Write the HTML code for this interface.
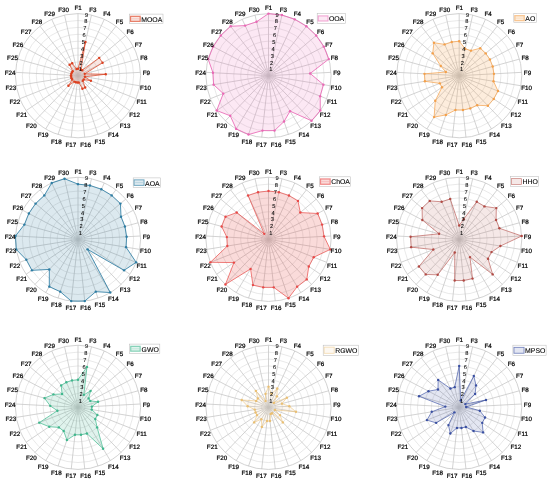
<!DOCTYPE html>
<html><head><meta charset="utf-8"><title>Radar charts</title>
<style>html,body{margin:0;padding:0;background:#fff;overflow:hidden}svg{display:block}</style></head>
<body>
<svg text-rendering="geometricPrecision" width="550" height="483" viewBox="0 0 550 483" font-family="'Liberation Sans', Arial, sans-serif">
<rect width="550" height="483" fill="#fff"/>
<g>
<ellipse cx="78.00" cy="75.70" rx="6.96" ry="6.90" fill="none" stroke="#e0e0e0" stroke-width="0.7"/>
<ellipse cx="78.00" cy="75.70" rx="13.91" ry="13.80" fill="none" stroke="#e0e0e0" stroke-width="0.7"/>
<ellipse cx="78.00" cy="75.70" rx="20.87" ry="20.70" fill="none" stroke="#e0e0e0" stroke-width="0.7"/>
<ellipse cx="78.00" cy="75.70" rx="27.82" ry="27.60" fill="none" stroke="#e0e0e0" stroke-width="0.7"/>
<ellipse cx="78.00" cy="75.70" rx="34.78" ry="34.50" fill="none" stroke="#e0e0e0" stroke-width="0.7"/>
<ellipse cx="78.00" cy="75.70" rx="41.73" ry="41.40" fill="none" stroke="#e0e0e0" stroke-width="0.7"/>
<ellipse cx="78.00" cy="75.70" rx="48.69" ry="48.30" fill="none" stroke="#e0e0e0" stroke-width="0.7"/>
<ellipse cx="78.00" cy="75.70" rx="55.64" ry="55.20" fill="none" stroke="#e0e0e0" stroke-width="0.7"/>
<ellipse cx="78.00" cy="75.70" rx="62.60" ry="62.10" fill="none" stroke="#c6c6c6" stroke-width="0.8"/>
<path d="M78.00 75.70L78.00 13.60M78.00 75.70L91.46 15.05M78.00 75.70L104.29 19.34M78.00 75.70L115.88 26.26M78.00 75.70L125.71 35.50M78.00 75.70L133.31 46.61M78.00 75.70L138.32 59.09M78.00 75.70L140.51 72.34M78.00 75.70L139.78 85.75M78.00 75.70L136.15 98.69M78.00 75.70L129.81 110.55M78.00 75.70L121.05 120.78M78.00 75.70L110.27 128.91M78.00 75.70L97.99 134.55M78.00 75.70L84.77 137.44M78.00 75.70L71.23 137.44M78.00 75.70L58.01 134.55M78.00 75.70L45.73 128.91M78.00 75.70L34.95 120.78M78.00 75.70L26.19 110.55M78.00 75.70L19.85 98.69M78.00 75.70L16.22 85.75M78.00 75.70L15.49 72.34M78.00 75.70L17.68 59.09M78.00 75.70L22.69 46.61M78.00 75.70L30.29 35.50M78.00 75.70L40.12 26.26M78.00 75.70L51.71 19.34M78.00 75.70L64.54 15.05" stroke="#c4c4c4" stroke-width="0.75" fill="none"/>
<polygon points="78.00,68.80 85.48,42.01 80.92,69.44 82.21,70.21 99.21,57.83 102.58,62.77 84.70,73.85 105.78,74.21 84.86,76.82 90.92,80.81 83.76,79.57 82.78,80.71 85.17,87.52 82.44,88.78 78.75,82.56 77.25,82.56 75.78,82.24 74.41,81.61 68.43,85.72 72.24,79.57 71.54,78.25 71.14,76.82 71.05,75.33 71.30,73.85 71.85,72.47 72.70,71.23 69.58,64.71 72.16,63.18 76.50,68.96" fill="#dc4020" fill-opacity="0.13" stroke="#dc4020" stroke-width="0.70" stroke-linejoin="round"/>
<circle cx="78.00" cy="68.80" r="1.2" fill="#dc4020"/>
<circle cx="85.48" cy="42.01" r="1.2" fill="#dc4020"/>
<circle cx="80.92" cy="69.44" r="1.2" fill="#dc4020"/>
<circle cx="82.21" cy="70.21" r="1.2" fill="#dc4020"/>
<circle cx="99.21" cy="57.83" r="1.2" fill="#dc4020"/>
<circle cx="102.58" cy="62.77" r="1.2" fill="#dc4020"/>
<circle cx="84.70" cy="73.85" r="1.2" fill="#dc4020"/>
<circle cx="105.78" cy="74.21" r="1.2" fill="#dc4020"/>
<circle cx="84.86" cy="76.82" r="1.2" fill="#dc4020"/>
<circle cx="90.92" cy="80.81" r="1.2" fill="#dc4020"/>
<circle cx="83.76" cy="79.57" r="1.2" fill="#dc4020"/>
<circle cx="82.78" cy="80.71" r="1.2" fill="#dc4020"/>
<circle cx="85.17" cy="87.52" r="1.2" fill="#dc4020"/>
<circle cx="82.44" cy="88.78" r="1.2" fill="#dc4020"/>
<circle cx="78.75" cy="82.56" r="1.2" fill="#dc4020"/>
<circle cx="77.25" cy="82.56" r="1.2" fill="#dc4020"/>
<circle cx="75.78" cy="82.24" r="1.2" fill="#dc4020"/>
<circle cx="74.41" cy="81.61" r="1.2" fill="#dc4020"/>
<circle cx="68.43" cy="85.72" r="1.2" fill="#dc4020"/>
<circle cx="72.24" cy="79.57" r="1.2" fill="#dc4020"/>
<circle cx="71.54" cy="78.25" r="1.2" fill="#dc4020"/>
<circle cx="71.14" cy="76.82" r="1.2" fill="#dc4020"/>
<circle cx="71.05" cy="75.33" r="1.2" fill="#dc4020"/>
<circle cx="71.30" cy="73.85" r="1.2" fill="#dc4020"/>
<circle cx="71.85" cy="72.47" r="1.2" fill="#dc4020"/>
<circle cx="72.70" cy="71.23" r="1.2" fill="#dc4020"/>
<circle cx="69.58" cy="64.71" r="1.2" fill="#dc4020"/>
<circle cx="72.16" cy="63.18" r="1.2" fill="#dc4020"/>
<circle cx="76.50" cy="68.96" r="1.2" fill="#dc4020"/>
<text x="80.45" y="69.14" font-size="5.7" text-anchor="middle" fill="#000" stroke="#000" stroke-width="0.06" dy="2.3">1</text>
<text x="81.20" y="62.28" font-size="5.7" text-anchor="middle" fill="#000" stroke="#000" stroke-width="0.06" dy="2.3">2</text>
<text x="81.96" y="55.42" font-size="5.7" text-anchor="middle" fill="#000" stroke="#000" stroke-width="0.06" dy="2.3">3</text>
<text x="82.71" y="48.56" font-size="5.7" text-anchor="middle" fill="#000" stroke="#000" stroke-width="0.06" dy="2.3">4</text>
<text x="83.46" y="41.70" font-size="5.7" text-anchor="middle" fill="#000" stroke="#000" stroke-width="0.06" dy="2.3">5</text>
<text x="84.21" y="34.84" font-size="5.7" text-anchor="middle" fill="#000" stroke="#000" stroke-width="0.06" dy="2.3">6</text>
<text x="84.96" y="27.98" font-size="5.7" text-anchor="middle" fill="#000" stroke="#000" stroke-width="0.06" dy="2.3">7</text>
<text x="85.72" y="21.12" font-size="5.7" text-anchor="middle" fill="#000" stroke="#000" stroke-width="0.06" dy="2.3">8</text>
<text x="86.47" y="14.26" font-size="5.7" text-anchor="middle" fill="#000" stroke="#000" stroke-width="0.06" dy="2.3">9</text>
<text x="78.20" y="7.20" font-size="6.25" text-anchor="middle" fill="#000" stroke="#000" stroke-width="0.22" dy="2.9">F1</text>
<text x="92.86" y="8.80" font-size="6.25" text-anchor="middle" fill="#000" stroke="#000" stroke-width="0.22" dy="2.9">F3</text>
<text x="106.84" y="13.53" font-size="6.25" text-anchor="middle" fill="#000" stroke="#000" stroke-width="0.22" dy="2.9">F4</text>
<text x="119.47" y="21.17" font-size="6.25" text-anchor="middle" fill="#000" stroke="#000" stroke-width="0.22" dy="2.9">F5</text>
<text x="130.18" y="31.35" font-size="6.25" text-anchor="middle" fill="#000" stroke="#000" stroke-width="0.22" dy="2.9">F6</text>
<text x="138.46" y="43.61" font-size="6.25" text-anchor="middle" fill="#000" stroke="#000" stroke-width="0.22" dy="2.9">F7</text>
<text x="143.91" y="57.37" font-size="6.25" text-anchor="middle" fill="#000" stroke="#000" stroke-width="0.22" dy="2.9">F8</text>
<text x="146.30" y="71.99" font-size="6.25" text-anchor="middle" fill="#000" stroke="#000" stroke-width="0.22" dy="2.9">F9</text>
<text x="145.50" y="86.78" font-size="6.25" text-anchor="middle" fill="#000" stroke="#000" stroke-width="0.22" dy="2.9">F10</text>
<text x="141.56" y="101.05" font-size="6.25" text-anchor="middle" fill="#000" stroke="#000" stroke-width="0.22" dy="2.9">F11</text>
<text x="134.65" y="114.14" font-size="6.25" text-anchor="middle" fill="#000" stroke="#000" stroke-width="0.22" dy="2.9">F12</text>
<text x="125.10" y="125.43" font-size="6.25" text-anchor="middle" fill="#000" stroke="#000" stroke-width="0.22" dy="2.9">F13</text>
<text x="113.36" y="134.39" font-size="6.25" text-anchor="middle" fill="#000" stroke="#000" stroke-width="0.22" dy="2.9">F14</text>
<text x="99.98" y="140.61" font-size="6.25" text-anchor="middle" fill="#000" stroke="#000" stroke-width="0.22" dy="2.9">F15</text>
<text x="85.57" y="143.80" font-size="6.25" text-anchor="middle" fill="#000" stroke="#000" stroke-width="0.22" dy="2.9">F16</text>
<text x="70.83" y="143.80" font-size="6.25" text-anchor="middle" fill="#000" stroke="#000" stroke-width="0.22" dy="2.9">F17</text>
<text x="56.42" y="140.61" font-size="6.25" text-anchor="middle" fill="#000" stroke="#000" stroke-width="0.22" dy="2.9">F18</text>
<text x="43.04" y="134.39" font-size="6.25" text-anchor="middle" fill="#000" stroke="#000" stroke-width="0.22" dy="2.9">F19</text>
<text x="31.30" y="125.43" font-size="6.25" text-anchor="middle" fill="#000" stroke="#000" stroke-width="0.22" dy="2.9">F20</text>
<text x="21.75" y="114.14" font-size="6.25" text-anchor="middle" fill="#000" stroke="#000" stroke-width="0.22" dy="2.9">F21</text>
<text x="14.84" y="101.05" font-size="6.25" text-anchor="middle" fill="#000" stroke="#000" stroke-width="0.22" dy="2.9">F22</text>
<text x="10.90" y="86.78" font-size="6.25" text-anchor="middle" fill="#000" stroke="#000" stroke-width="0.22" dy="2.9">F23</text>
<text x="10.10" y="71.99" font-size="6.25" text-anchor="middle" fill="#000" stroke="#000" stroke-width="0.22" dy="2.9">F24</text>
<text x="12.49" y="57.37" font-size="6.25" text-anchor="middle" fill="#000" stroke="#000" stroke-width="0.22" dy="2.9">F25</text>
<text x="17.94" y="43.61" font-size="6.25" text-anchor="middle" fill="#000" stroke="#000" stroke-width="0.22" dy="2.9">F26</text>
<text x="26.22" y="31.35" font-size="6.25" text-anchor="middle" fill="#000" stroke="#000" stroke-width="0.22" dy="2.9">F27</text>
<text x="36.93" y="21.17" font-size="6.25" text-anchor="middle" fill="#000" stroke="#000" stroke-width="0.22" dy="2.9">F28</text>
<text x="49.56" y="13.53" font-size="6.25" text-anchor="middle" fill="#000" stroke="#000" stroke-width="0.22" dy="2.9">F29</text>
<text x="63.54" y="8.80" font-size="6.25" text-anchor="middle" fill="#000" stroke="#000" stroke-width="0.22" dy="2.9">F30</text>
<rect x="129.40" y="14.10" width="33.60" height="9.40" fill="#fff" stroke="#bdbdbd" stroke-width="0.55"/>
<rect x="130.53" y="16.32" width="9.65" height="5.05" fill="#dc4020" fill-opacity="0.13" stroke="#dc4020" stroke-opacity="0.65" stroke-width="1.25"/>
<path d="M131.50 18.85H139.20" stroke="#dc4020" stroke-opacity="0.3" stroke-width="0.6"/>
<text x="141.20" y="21.50" font-size="6.9" fill="#000" stroke="#000" stroke-width="0.1">MOOA</text>
</g>
<g>
<ellipse cx="268.50" cy="75.70" rx="6.96" ry="6.90" fill="none" stroke="#e0e0e0" stroke-width="0.7"/>
<ellipse cx="268.50" cy="75.70" rx="13.91" ry="13.80" fill="none" stroke="#e0e0e0" stroke-width="0.7"/>
<ellipse cx="268.50" cy="75.70" rx="20.87" ry="20.70" fill="none" stroke="#e0e0e0" stroke-width="0.7"/>
<ellipse cx="268.50" cy="75.70" rx="27.82" ry="27.60" fill="none" stroke="#e0e0e0" stroke-width="0.7"/>
<ellipse cx="268.50" cy="75.70" rx="34.78" ry="34.50" fill="none" stroke="#e0e0e0" stroke-width="0.7"/>
<ellipse cx="268.50" cy="75.70" rx="41.73" ry="41.40" fill="none" stroke="#e0e0e0" stroke-width="0.7"/>
<ellipse cx="268.50" cy="75.70" rx="48.69" ry="48.30" fill="none" stroke="#e0e0e0" stroke-width="0.7"/>
<ellipse cx="268.50" cy="75.70" rx="55.64" ry="55.20" fill="none" stroke="#e0e0e0" stroke-width="0.7"/>
<ellipse cx="268.50" cy="75.70" rx="62.60" ry="62.10" fill="none" stroke="#c6c6c6" stroke-width="0.8"/>
<path d="M268.50 75.70L268.50 13.60M268.50 75.70L281.96 15.05M268.50 75.70L294.79 19.34M268.50 75.70L306.38 26.26M268.50 75.70L316.21 35.50M268.50 75.70L323.81 46.61M268.50 75.70L328.82 59.09M268.50 75.70L331.01 72.34M268.50 75.70L330.28 85.75M268.50 75.70L326.65 98.69M268.50 75.70L320.31 110.55M268.50 75.70L311.55 120.78M268.50 75.70L300.77 128.91M268.50 75.70L288.49 134.55M268.50 75.70L275.27 137.44M268.50 75.70L261.73 137.44M268.50 75.70L248.51 134.55M268.50 75.70L236.23 128.91M268.50 75.70L225.45 120.78M268.50 75.70L216.69 110.55M268.50 75.70L210.35 98.69M268.50 75.70L206.72 85.75M268.50 75.70L205.99 72.34M268.50 75.70L208.18 59.09M268.50 75.70L213.19 46.61M268.50 75.70L220.79 35.50M268.50 75.70L230.62 26.26M268.50 75.70L242.21 19.34M268.50 75.70L255.04 15.05" stroke="#c4c4c4" stroke-width="0.75" fill="none"/>
<polygon points="268.50,13.60 281.96,15.05 294.79,19.34 306.38,26.26 316.21,35.50 323.81,46.61 328.82,59.09 310.17,73.46 323.41,84.63 320.19,96.13 320.31,110.55 311.55,120.78 290.02,111.17 284.05,121.47 274.52,130.58 262.48,130.58 248.51,134.55 236.23,128.91 230.23,115.77 216.69,110.55 223.27,93.58 213.59,84.63 212.94,72.71 208.18,59.09 213.19,46.61 220.79,35.50 230.62,26.26 245.14,25.60 256.54,21.79" fill="#e968b5" fill-opacity="0.15" stroke="#e968b5" stroke-width="0.85" stroke-linejoin="round"/>
<circle cx="268.50" cy="13.60" r="1.2" fill="#e968b5"/>
<circle cx="281.96" cy="15.05" r="1.2" fill="#e968b5"/>
<circle cx="294.79" cy="19.34" r="1.2" fill="#e968b5"/>
<circle cx="306.38" cy="26.26" r="1.2" fill="#e968b5"/>
<circle cx="316.21" cy="35.50" r="1.2" fill="#e968b5"/>
<circle cx="323.81" cy="46.61" r="1.2" fill="#e968b5"/>
<circle cx="328.82" cy="59.09" r="1.2" fill="#e968b5"/>
<circle cx="310.17" cy="73.46" r="1.2" fill="#e968b5"/>
<circle cx="323.41" cy="84.63" r="1.2" fill="#e968b5"/>
<circle cx="320.19" cy="96.13" r="1.2" fill="#e968b5"/>
<circle cx="320.31" cy="110.55" r="1.2" fill="#e968b5"/>
<circle cx="311.55" cy="120.78" r="1.2" fill="#e968b5"/>
<circle cx="290.02" cy="111.17" r="1.2" fill="#e968b5"/>
<circle cx="284.05" cy="121.47" r="1.2" fill="#e968b5"/>
<circle cx="274.52" cy="130.58" r="1.2" fill="#e968b5"/>
<circle cx="262.48" cy="130.58" r="1.2" fill="#e968b5"/>
<circle cx="248.51" cy="134.55" r="1.2" fill="#e968b5"/>
<circle cx="236.23" cy="128.91" r="1.2" fill="#e968b5"/>
<circle cx="230.23" cy="115.77" r="1.2" fill="#e968b5"/>
<circle cx="216.69" cy="110.55" r="1.2" fill="#e968b5"/>
<circle cx="223.27" cy="93.58" r="1.2" fill="#e968b5"/>
<circle cx="213.59" cy="84.63" r="1.2" fill="#e968b5"/>
<circle cx="212.94" cy="72.71" r="1.2" fill="#e968b5"/>
<circle cx="208.18" cy="59.09" r="1.2" fill="#e968b5"/>
<circle cx="213.19" cy="46.61" r="1.2" fill="#e968b5"/>
<circle cx="220.79" cy="35.50" r="1.2" fill="#e968b5"/>
<circle cx="230.62" cy="26.26" r="1.2" fill="#e968b5"/>
<circle cx="245.14" cy="25.60" r="1.2" fill="#e968b5"/>
<circle cx="256.54" cy="21.79" r="1.2" fill="#e968b5"/>
<text x="270.95" y="69.14" font-size="5.7" text-anchor="middle" fill="#000" stroke="#000" stroke-width="0.06" dy="2.3">1</text>
<text x="271.70" y="62.28" font-size="5.7" text-anchor="middle" fill="#000" stroke="#000" stroke-width="0.06" dy="2.3">2</text>
<text x="272.46" y="55.42" font-size="5.7" text-anchor="middle" fill="#000" stroke="#000" stroke-width="0.06" dy="2.3">3</text>
<text x="273.21" y="48.56" font-size="5.7" text-anchor="middle" fill="#000" stroke="#000" stroke-width="0.06" dy="2.3">4</text>
<text x="273.96" y="41.70" font-size="5.7" text-anchor="middle" fill="#000" stroke="#000" stroke-width="0.06" dy="2.3">5</text>
<text x="274.71" y="34.84" font-size="5.7" text-anchor="middle" fill="#000" stroke="#000" stroke-width="0.06" dy="2.3">6</text>
<text x="275.46" y="27.98" font-size="5.7" text-anchor="middle" fill="#000" stroke="#000" stroke-width="0.06" dy="2.3">7</text>
<text x="276.22" y="21.12" font-size="5.7" text-anchor="middle" fill="#000" stroke="#000" stroke-width="0.06" dy="2.3">8</text>
<text x="276.97" y="14.26" font-size="5.7" text-anchor="middle" fill="#000" stroke="#000" stroke-width="0.06" dy="2.3">9</text>
<text x="268.70" y="7.20" font-size="6.25" text-anchor="middle" fill="#000" stroke="#000" stroke-width="0.22" dy="2.9">F1</text>
<text x="283.36" y="8.80" font-size="6.25" text-anchor="middle" fill="#000" stroke="#000" stroke-width="0.22" dy="2.9">F3</text>
<text x="297.34" y="13.53" font-size="6.25" text-anchor="middle" fill="#000" stroke="#000" stroke-width="0.22" dy="2.9">F4</text>
<text x="309.97" y="21.17" font-size="6.25" text-anchor="middle" fill="#000" stroke="#000" stroke-width="0.22" dy="2.9">F5</text>
<text x="320.68" y="31.35" font-size="6.25" text-anchor="middle" fill="#000" stroke="#000" stroke-width="0.22" dy="2.9">F6</text>
<text x="328.96" y="43.61" font-size="6.25" text-anchor="middle" fill="#000" stroke="#000" stroke-width="0.22" dy="2.9">F7</text>
<text x="334.41" y="57.37" font-size="6.25" text-anchor="middle" fill="#000" stroke="#000" stroke-width="0.22" dy="2.9">F8</text>
<text x="336.80" y="71.99" font-size="6.25" text-anchor="middle" fill="#000" stroke="#000" stroke-width="0.22" dy="2.9">F9</text>
<text x="336.00" y="86.78" font-size="6.25" text-anchor="middle" fill="#000" stroke="#000" stroke-width="0.22" dy="2.9">F10</text>
<text x="332.06" y="101.05" font-size="6.25" text-anchor="middle" fill="#000" stroke="#000" stroke-width="0.22" dy="2.9">F11</text>
<text x="325.15" y="114.14" font-size="6.25" text-anchor="middle" fill="#000" stroke="#000" stroke-width="0.22" dy="2.9">F12</text>
<text x="315.60" y="125.43" font-size="6.25" text-anchor="middle" fill="#000" stroke="#000" stroke-width="0.22" dy="2.9">F13</text>
<text x="303.86" y="134.39" font-size="6.25" text-anchor="middle" fill="#000" stroke="#000" stroke-width="0.22" dy="2.9">F14</text>
<text x="290.48" y="140.61" font-size="6.25" text-anchor="middle" fill="#000" stroke="#000" stroke-width="0.22" dy="2.9">F15</text>
<text x="276.07" y="143.80" font-size="6.25" text-anchor="middle" fill="#000" stroke="#000" stroke-width="0.22" dy="2.9">F16</text>
<text x="261.33" y="143.80" font-size="6.25" text-anchor="middle" fill="#000" stroke="#000" stroke-width="0.22" dy="2.9">F17</text>
<text x="246.92" y="140.61" font-size="6.25" text-anchor="middle" fill="#000" stroke="#000" stroke-width="0.22" dy="2.9">F18</text>
<text x="233.54" y="134.39" font-size="6.25" text-anchor="middle" fill="#000" stroke="#000" stroke-width="0.22" dy="2.9">F19</text>
<text x="221.80" y="125.43" font-size="6.25" text-anchor="middle" fill="#000" stroke="#000" stroke-width="0.22" dy="2.9">F20</text>
<text x="212.25" y="114.14" font-size="6.25" text-anchor="middle" fill="#000" stroke="#000" stroke-width="0.22" dy="2.9">F21</text>
<text x="205.34" y="101.05" font-size="6.25" text-anchor="middle" fill="#000" stroke="#000" stroke-width="0.22" dy="2.9">F22</text>
<text x="201.40" y="86.78" font-size="6.25" text-anchor="middle" fill="#000" stroke="#000" stroke-width="0.22" dy="2.9">F23</text>
<text x="200.60" y="71.99" font-size="6.25" text-anchor="middle" fill="#000" stroke="#000" stroke-width="0.22" dy="2.9">F24</text>
<text x="202.99" y="57.37" font-size="6.25" text-anchor="middle" fill="#000" stroke="#000" stroke-width="0.22" dy="2.9">F25</text>
<text x="208.44" y="43.61" font-size="6.25" text-anchor="middle" fill="#000" stroke="#000" stroke-width="0.22" dy="2.9">F26</text>
<text x="216.72" y="31.35" font-size="6.25" text-anchor="middle" fill="#000" stroke="#000" stroke-width="0.22" dy="2.9">F27</text>
<text x="227.43" y="21.17" font-size="6.25" text-anchor="middle" fill="#000" stroke="#000" stroke-width="0.22" dy="2.9">F28</text>
<text x="240.06" y="13.53" font-size="6.25" text-anchor="middle" fill="#000" stroke="#000" stroke-width="0.22" dy="2.9">F29</text>
<text x="254.04" y="8.80" font-size="6.25" text-anchor="middle" fill="#000" stroke="#000" stroke-width="0.22" dy="2.9">F30</text>
<rect x="317.20" y="13.40" width="28.40" height="9.90" fill="#fff" stroke="#bdbdbd" stroke-width="0.55"/>
<rect x="318.20" y="15.90" width="9.80" height="5.10" fill="#e968b5" fill-opacity="0.15" stroke="#e968b5" stroke-opacity="0.60" stroke-width="1.00"/>
<text x="328.90" y="21.10" font-size="6.9" fill="#000" stroke="#000" stroke-width="0.1">OOA</text>
</g>
<g>
<ellipse cx="459.20" cy="75.70" rx="6.96" ry="6.90" fill="none" stroke="#e0e0e0" stroke-width="0.7"/>
<ellipse cx="459.20" cy="75.70" rx="13.91" ry="13.80" fill="none" stroke="#e0e0e0" stroke-width="0.7"/>
<ellipse cx="459.20" cy="75.70" rx="20.87" ry="20.70" fill="none" stroke="#e0e0e0" stroke-width="0.7"/>
<ellipse cx="459.20" cy="75.70" rx="27.82" ry="27.60" fill="none" stroke="#e0e0e0" stroke-width="0.7"/>
<ellipse cx="459.20" cy="75.70" rx="34.78" ry="34.50" fill="none" stroke="#e0e0e0" stroke-width="0.7"/>
<ellipse cx="459.20" cy="75.70" rx="41.73" ry="41.40" fill="none" stroke="#e0e0e0" stroke-width="0.7"/>
<ellipse cx="459.20" cy="75.70" rx="48.69" ry="48.30" fill="none" stroke="#e0e0e0" stroke-width="0.7"/>
<ellipse cx="459.20" cy="75.70" rx="55.64" ry="55.20" fill="none" stroke="#e0e0e0" stroke-width="0.7"/>
<ellipse cx="459.20" cy="75.70" rx="62.60" ry="62.10" fill="none" stroke="#c6c6c6" stroke-width="0.8"/>
<path d="M459.20 75.70L459.20 13.60M459.20 75.70L472.66 15.05M459.20 75.70L485.49 19.34M459.20 75.70L497.08 26.26M459.20 75.70L506.91 35.50M459.20 75.70L514.51 46.61M459.20 75.70L519.52 59.09M459.20 75.70L521.71 72.34M459.20 75.70L520.98 85.75M459.20 75.70L517.35 98.69M459.20 75.70L511.01 110.55M459.20 75.70L502.25 120.78M459.20 75.70L491.47 128.91M459.20 75.70L479.19 134.55M459.20 75.70L465.97 137.44M459.20 75.70L452.43 137.44M459.20 75.70L439.21 134.55M459.20 75.70L426.93 128.91M459.20 75.70L416.15 120.78M459.20 75.70L407.39 110.55M459.20 75.70L401.05 98.69M459.20 75.70L397.42 85.75M459.20 75.70L396.69 72.34M459.20 75.70L398.88 59.09M459.20 75.70L403.89 46.61M459.20 75.70L411.49 35.50M459.20 75.70L421.32 26.26M459.20 75.70L432.91 19.34M459.20 75.70L445.74 15.05" stroke="#c4c4c4" stroke-width="0.75" fill="none"/>
<polygon points="459.20,41.20 465.18,48.75 470.88,50.65 480.25,48.23 485.71,53.37 489.93,59.54 492.71,66.47 493.93,73.83 493.52,81.28 497.97,91.02 493.74,98.93 487.90,105.76 477.13,105.26 470.30,108.39 462.96,110.00 455.44,110.00 445.87,114.93 434.10,117.09 435.28,100.75 441.93,87.32 439.82,83.36 424.88,81.28 424.47,73.83 445.80,72.01 440.76,66.00 432.69,53.37 433.94,42.74 444.60,44.39 451.72,42.01" fill="#f4a04a" fill-opacity="0.19" stroke="#f4a04a" stroke-width="0.70" stroke-linejoin="round"/>
<circle cx="459.20" cy="41.20" r="1.2" fill="#f4a04a"/>
<circle cx="465.18" cy="48.75" r="1.2" fill="#f4a04a"/>
<circle cx="470.88" cy="50.65" r="1.2" fill="#f4a04a"/>
<circle cx="480.25" cy="48.23" r="1.2" fill="#f4a04a"/>
<circle cx="485.71" cy="53.37" r="1.2" fill="#f4a04a"/>
<circle cx="489.93" cy="59.54" r="1.2" fill="#f4a04a"/>
<circle cx="492.71" cy="66.47" r="1.2" fill="#f4a04a"/>
<circle cx="493.93" cy="73.83" r="1.2" fill="#f4a04a"/>
<circle cx="493.52" cy="81.28" r="1.2" fill="#f4a04a"/>
<circle cx="497.97" cy="91.02" r="1.2" fill="#f4a04a"/>
<circle cx="493.74" cy="98.93" r="1.2" fill="#f4a04a"/>
<circle cx="487.90" cy="105.76" r="1.2" fill="#f4a04a"/>
<circle cx="477.13" cy="105.26" r="1.2" fill="#f4a04a"/>
<circle cx="470.30" cy="108.39" r="1.2" fill="#f4a04a"/>
<circle cx="462.96" cy="110.00" r="1.2" fill="#f4a04a"/>
<circle cx="455.44" cy="110.00" r="1.2" fill="#f4a04a"/>
<circle cx="445.87" cy="114.93" r="1.2" fill="#f4a04a"/>
<circle cx="434.10" cy="117.09" r="1.2" fill="#f4a04a"/>
<circle cx="435.28" cy="100.75" r="1.2" fill="#f4a04a"/>
<circle cx="441.93" cy="87.32" r="1.2" fill="#f4a04a"/>
<circle cx="439.82" cy="83.36" r="1.2" fill="#f4a04a"/>
<circle cx="424.88" cy="81.28" r="1.2" fill="#f4a04a"/>
<circle cx="424.47" cy="73.83" r="1.2" fill="#f4a04a"/>
<circle cx="445.80" cy="72.01" r="1.2" fill="#f4a04a"/>
<circle cx="440.76" cy="66.00" r="1.2" fill="#f4a04a"/>
<circle cx="432.69" cy="53.37" r="1.2" fill="#f4a04a"/>
<circle cx="433.94" cy="42.74" r="1.2" fill="#f4a04a"/>
<circle cx="444.60" cy="44.39" r="1.2" fill="#f4a04a"/>
<circle cx="451.72" cy="42.01" r="1.2" fill="#f4a04a"/>
<text x="461.65" y="69.14" font-size="5.7" text-anchor="middle" fill="#000" stroke="#000" stroke-width="0.06" dy="2.3">1</text>
<text x="462.40" y="62.28" font-size="5.7" text-anchor="middle" fill="#000" stroke="#000" stroke-width="0.06" dy="2.3">2</text>
<text x="463.16" y="55.42" font-size="5.7" text-anchor="middle" fill="#000" stroke="#000" stroke-width="0.06" dy="2.3">3</text>
<text x="463.91" y="48.56" font-size="5.7" text-anchor="middle" fill="#000" stroke="#000" stroke-width="0.06" dy="2.3">4</text>
<text x="464.66" y="41.70" font-size="5.7" text-anchor="middle" fill="#000" stroke="#000" stroke-width="0.06" dy="2.3">5</text>
<text x="465.41" y="34.84" font-size="5.7" text-anchor="middle" fill="#000" stroke="#000" stroke-width="0.06" dy="2.3">6</text>
<text x="466.16" y="27.98" font-size="5.7" text-anchor="middle" fill="#000" stroke="#000" stroke-width="0.06" dy="2.3">7</text>
<text x="466.92" y="21.12" font-size="5.7" text-anchor="middle" fill="#000" stroke="#000" stroke-width="0.06" dy="2.3">8</text>
<text x="467.67" y="14.26" font-size="5.7" text-anchor="middle" fill="#000" stroke="#000" stroke-width="0.06" dy="2.3">9</text>
<text x="459.40" y="7.20" font-size="6.25" text-anchor="middle" fill="#000" stroke="#000" stroke-width="0.22" dy="2.9">F1</text>
<text x="474.06" y="8.80" font-size="6.25" text-anchor="middle" fill="#000" stroke="#000" stroke-width="0.22" dy="2.9">F3</text>
<text x="488.04" y="13.53" font-size="6.25" text-anchor="middle" fill="#000" stroke="#000" stroke-width="0.22" dy="2.9">F4</text>
<text x="500.67" y="21.17" font-size="6.25" text-anchor="middle" fill="#000" stroke="#000" stroke-width="0.22" dy="2.9">F5</text>
<text x="511.38" y="31.35" font-size="6.25" text-anchor="middle" fill="#000" stroke="#000" stroke-width="0.22" dy="2.9">F6</text>
<text x="519.66" y="43.61" font-size="6.25" text-anchor="middle" fill="#000" stroke="#000" stroke-width="0.22" dy="2.9">F7</text>
<text x="525.11" y="57.37" font-size="6.25" text-anchor="middle" fill="#000" stroke="#000" stroke-width="0.22" dy="2.9">F8</text>
<text x="527.50" y="71.99" font-size="6.25" text-anchor="middle" fill="#000" stroke="#000" stroke-width="0.22" dy="2.9">F9</text>
<text x="526.70" y="86.78" font-size="6.25" text-anchor="middle" fill="#000" stroke="#000" stroke-width="0.22" dy="2.9">F10</text>
<text x="522.76" y="101.05" font-size="6.25" text-anchor="middle" fill="#000" stroke="#000" stroke-width="0.22" dy="2.9">F11</text>
<text x="515.85" y="114.14" font-size="6.25" text-anchor="middle" fill="#000" stroke="#000" stroke-width="0.22" dy="2.9">F12</text>
<text x="506.30" y="125.43" font-size="6.25" text-anchor="middle" fill="#000" stroke="#000" stroke-width="0.22" dy="2.9">F13</text>
<text x="494.56" y="134.39" font-size="6.25" text-anchor="middle" fill="#000" stroke="#000" stroke-width="0.22" dy="2.9">F14</text>
<text x="481.18" y="140.61" font-size="6.25" text-anchor="middle" fill="#000" stroke="#000" stroke-width="0.22" dy="2.9">F15</text>
<text x="466.77" y="143.80" font-size="6.25" text-anchor="middle" fill="#000" stroke="#000" stroke-width="0.22" dy="2.9">F16</text>
<text x="452.03" y="143.80" font-size="6.25" text-anchor="middle" fill="#000" stroke="#000" stroke-width="0.22" dy="2.9">F17</text>
<text x="437.62" y="140.61" font-size="6.25" text-anchor="middle" fill="#000" stroke="#000" stroke-width="0.22" dy="2.9">F18</text>
<text x="424.24" y="134.39" font-size="6.25" text-anchor="middle" fill="#000" stroke="#000" stroke-width="0.22" dy="2.9">F19</text>
<text x="412.50" y="125.43" font-size="6.25" text-anchor="middle" fill="#000" stroke="#000" stroke-width="0.22" dy="2.9">F20</text>
<text x="402.95" y="114.14" font-size="6.25" text-anchor="middle" fill="#000" stroke="#000" stroke-width="0.22" dy="2.9">F21</text>
<text x="396.04" y="101.05" font-size="6.25" text-anchor="middle" fill="#000" stroke="#000" stroke-width="0.22" dy="2.9">F22</text>
<text x="392.10" y="86.78" font-size="6.25" text-anchor="middle" fill="#000" stroke="#000" stroke-width="0.22" dy="2.9">F23</text>
<text x="391.30" y="71.99" font-size="6.25" text-anchor="middle" fill="#000" stroke="#000" stroke-width="0.22" dy="2.9">F24</text>
<text x="393.69" y="57.37" font-size="6.25" text-anchor="middle" fill="#000" stroke="#000" stroke-width="0.22" dy="2.9">F25</text>
<text x="399.14" y="43.61" font-size="6.25" text-anchor="middle" fill="#000" stroke="#000" stroke-width="0.22" dy="2.9">F26</text>
<text x="407.42" y="31.35" font-size="6.25" text-anchor="middle" fill="#000" stroke="#000" stroke-width="0.22" dy="2.9">F27</text>
<text x="418.13" y="21.17" font-size="6.25" text-anchor="middle" fill="#000" stroke="#000" stroke-width="0.22" dy="2.9">F28</text>
<text x="430.76" y="13.53" font-size="6.25" text-anchor="middle" fill="#000" stroke="#000" stroke-width="0.22" dy="2.9">F29</text>
<text x="444.74" y="8.80" font-size="6.25" text-anchor="middle" fill="#000" stroke="#000" stroke-width="0.22" dy="2.9">F30</text>
<rect x="513.80" y="13.70" width="22.90" height="8.70" fill="#fff" stroke="#bdbdbd" stroke-width="0.55"/>
<rect x="514.85" y="15.65" width="9.40" height="5.00" fill="#f4a04a" fill-opacity="0.19" stroke="#f4a04a" stroke-opacity="0.55" stroke-width="1.30"/>
<path d="M515.80 18.15H523.30" stroke="#f4a04a" stroke-opacity="0.3" stroke-width="0.6"/>
<text x="525.30" y="20.90" font-size="6.9" fill="#000" stroke="#000" stroke-width="0.1">AO</text>
</g>
<g>
<ellipse cx="78.00" cy="239.35" rx="6.96" ry="6.90" fill="none" stroke="#e0e0e0" stroke-width="0.7"/>
<ellipse cx="78.00" cy="239.35" rx="13.91" ry="13.80" fill="none" stroke="#e0e0e0" stroke-width="0.7"/>
<ellipse cx="78.00" cy="239.35" rx="20.87" ry="20.70" fill="none" stroke="#e0e0e0" stroke-width="0.7"/>
<ellipse cx="78.00" cy="239.35" rx="27.82" ry="27.60" fill="none" stroke="#e0e0e0" stroke-width="0.7"/>
<ellipse cx="78.00" cy="239.35" rx="34.78" ry="34.50" fill="none" stroke="#e0e0e0" stroke-width="0.7"/>
<ellipse cx="78.00" cy="239.35" rx="41.73" ry="41.40" fill="none" stroke="#e0e0e0" stroke-width="0.7"/>
<ellipse cx="78.00" cy="239.35" rx="48.69" ry="48.30" fill="none" stroke="#e0e0e0" stroke-width="0.7"/>
<ellipse cx="78.00" cy="239.35" rx="55.64" ry="55.20" fill="none" stroke="#e0e0e0" stroke-width="0.7"/>
<ellipse cx="78.00" cy="239.35" rx="62.60" ry="62.10" fill="none" stroke="#c6c6c6" stroke-width="0.8"/>
<path d="M78.00 239.35L78.00 177.25M78.00 239.35L91.46 178.70M78.00 239.35L104.29 182.99M78.00 239.35L115.88 189.91M78.00 239.35L125.71 199.15M78.00 239.35L133.31 210.26M78.00 239.35L138.32 222.74M78.00 239.35L140.51 235.99M78.00 239.35L139.78 249.40M78.00 239.35L136.15 262.34M78.00 239.35L129.81 274.20M78.00 239.35L121.05 284.43M78.00 239.35L110.27 292.56M78.00 239.35L97.99 298.20M78.00 239.35L84.77 301.09M78.00 239.35L71.23 301.09M78.00 239.35L58.01 298.20M78.00 239.35L45.73 292.56M78.00 239.35L34.95 284.43M78.00 239.35L26.19 274.20M78.00 239.35L19.85 262.34M78.00 239.35L16.22 249.40M78.00 239.35L15.49 235.99M78.00 239.35L17.68 222.74M78.00 239.35L22.69 210.26M78.00 239.35L30.29 199.15M78.00 239.35L40.12 189.91M78.00 239.35L51.71 182.99M78.00 239.35L64.54 178.70" stroke="#c4c4c4" stroke-width="0.75" fill="none"/>
<polygon points="78.00,184.15 89.96,185.44 101.36,189.25 111.67,195.41 120.41,203.61 121.02,216.73 124.91,226.43 126.62,236.74 126.05,247.16 136.15,262.34 124.06,270.33 87.57,249.37 110.27,292.56 95.77,291.66 84.77,301.09 71.23,301.09 60.23,291.66 49.31,286.65 49.30,269.41 31.94,270.33 26.31,259.78 16.22,249.40 15.49,235.99 24.38,224.58 28.84,213.49 35.59,203.61 44.33,195.41 51.71,182.99 64.54,178.70" fill="#2e7da3" fill-opacity="0.17" stroke="#2e7da3" stroke-width="0.85" stroke-linejoin="round"/>
<circle cx="78.00" cy="184.15" r="1.2" fill="#2e7da3"/>
<circle cx="89.96" cy="185.44" r="1.2" fill="#2e7da3"/>
<circle cx="101.36" cy="189.25" r="1.2" fill="#2e7da3"/>
<circle cx="111.67" cy="195.41" r="1.2" fill="#2e7da3"/>
<circle cx="120.41" cy="203.61" r="1.2" fill="#2e7da3"/>
<circle cx="121.02" cy="216.73" r="1.2" fill="#2e7da3"/>
<circle cx="124.91" cy="226.43" r="1.2" fill="#2e7da3"/>
<circle cx="126.62" cy="236.74" r="1.2" fill="#2e7da3"/>
<circle cx="126.05" cy="247.16" r="1.2" fill="#2e7da3"/>
<circle cx="136.15" cy="262.34" r="1.2" fill="#2e7da3"/>
<circle cx="124.06" cy="270.33" r="1.2" fill="#2e7da3"/>
<circle cx="87.57" cy="249.37" r="1.2" fill="#2e7da3"/>
<circle cx="110.27" cy="292.56" r="1.2" fill="#2e7da3"/>
<circle cx="95.77" cy="291.66" r="1.2" fill="#2e7da3"/>
<circle cx="84.77" cy="301.09" r="1.2" fill="#2e7da3"/>
<circle cx="71.23" cy="301.09" r="1.2" fill="#2e7da3"/>
<circle cx="60.23" cy="291.66" r="1.2" fill="#2e7da3"/>
<circle cx="49.31" cy="286.65" r="1.2" fill="#2e7da3"/>
<circle cx="49.30" cy="269.41" r="1.2" fill="#2e7da3"/>
<circle cx="31.94" cy="270.33" r="1.2" fill="#2e7da3"/>
<circle cx="26.31" cy="259.78" r="1.2" fill="#2e7da3"/>
<circle cx="16.22" cy="249.40" r="1.2" fill="#2e7da3"/>
<circle cx="15.49" cy="235.99" r="1.2" fill="#2e7da3"/>
<circle cx="24.38" cy="224.58" r="1.2" fill="#2e7da3"/>
<circle cx="28.84" cy="213.49" r="1.2" fill="#2e7da3"/>
<circle cx="35.59" cy="203.61" r="1.2" fill="#2e7da3"/>
<circle cx="44.33" cy="195.41" r="1.2" fill="#2e7da3"/>
<circle cx="51.71" cy="182.99" r="1.2" fill="#2e7da3"/>
<circle cx="64.54" cy="178.70" r="1.2" fill="#2e7da3"/>
<text x="80.45" y="232.79" font-size="5.7" text-anchor="middle" fill="#000" stroke="#000" stroke-width="0.06" dy="2.3">1</text>
<text x="81.20" y="225.93" font-size="5.7" text-anchor="middle" fill="#000" stroke="#000" stroke-width="0.06" dy="2.3">2</text>
<text x="81.96" y="219.07" font-size="5.7" text-anchor="middle" fill="#000" stroke="#000" stroke-width="0.06" dy="2.3">3</text>
<text x="82.71" y="212.21" font-size="5.7" text-anchor="middle" fill="#000" stroke="#000" stroke-width="0.06" dy="2.3">4</text>
<text x="83.46" y="205.35" font-size="5.7" text-anchor="middle" fill="#000" stroke="#000" stroke-width="0.06" dy="2.3">5</text>
<text x="84.21" y="198.49" font-size="5.7" text-anchor="middle" fill="#000" stroke="#000" stroke-width="0.06" dy="2.3">6</text>
<text x="84.96" y="191.63" font-size="5.7" text-anchor="middle" fill="#000" stroke="#000" stroke-width="0.06" dy="2.3">7</text>
<text x="85.72" y="184.77" font-size="5.7" text-anchor="middle" fill="#000" stroke="#000" stroke-width="0.06" dy="2.3">8</text>
<text x="86.47" y="177.91" font-size="5.7" text-anchor="middle" fill="#000" stroke="#000" stroke-width="0.06" dy="2.3">9</text>
<text x="78.20" y="170.85" font-size="6.25" text-anchor="middle" fill="#000" stroke="#000" stroke-width="0.22" dy="2.9">F1</text>
<text x="92.86" y="172.45" font-size="6.25" text-anchor="middle" fill="#000" stroke="#000" stroke-width="0.22" dy="2.9">F3</text>
<text x="106.84" y="177.18" font-size="6.25" text-anchor="middle" fill="#000" stroke="#000" stroke-width="0.22" dy="2.9">F4</text>
<text x="119.47" y="184.82" font-size="6.25" text-anchor="middle" fill="#000" stroke="#000" stroke-width="0.22" dy="2.9">F5</text>
<text x="130.18" y="195.00" font-size="6.25" text-anchor="middle" fill="#000" stroke="#000" stroke-width="0.22" dy="2.9">F6</text>
<text x="138.46" y="207.26" font-size="6.25" text-anchor="middle" fill="#000" stroke="#000" stroke-width="0.22" dy="2.9">F7</text>
<text x="143.91" y="221.02" font-size="6.25" text-anchor="middle" fill="#000" stroke="#000" stroke-width="0.22" dy="2.9">F8</text>
<text x="146.30" y="235.64" font-size="6.25" text-anchor="middle" fill="#000" stroke="#000" stroke-width="0.22" dy="2.9">F9</text>
<text x="145.50" y="250.43" font-size="6.25" text-anchor="middle" fill="#000" stroke="#000" stroke-width="0.22" dy="2.9">F10</text>
<text x="141.56" y="264.70" font-size="6.25" text-anchor="middle" fill="#000" stroke="#000" stroke-width="0.22" dy="2.9">F11</text>
<text x="134.65" y="277.79" font-size="6.25" text-anchor="middle" fill="#000" stroke="#000" stroke-width="0.22" dy="2.9">F12</text>
<text x="125.10" y="289.08" font-size="6.25" text-anchor="middle" fill="#000" stroke="#000" stroke-width="0.22" dy="2.9">F13</text>
<text x="113.36" y="298.04" font-size="6.25" text-anchor="middle" fill="#000" stroke="#000" stroke-width="0.22" dy="2.9">F14</text>
<text x="99.98" y="304.26" font-size="6.25" text-anchor="middle" fill="#000" stroke="#000" stroke-width="0.22" dy="2.9">F15</text>
<text x="85.57" y="307.45" font-size="6.25" text-anchor="middle" fill="#000" stroke="#000" stroke-width="0.22" dy="2.9">F16</text>
<text x="70.83" y="307.45" font-size="6.25" text-anchor="middle" fill="#000" stroke="#000" stroke-width="0.22" dy="2.9">F17</text>
<text x="56.42" y="304.26" font-size="6.25" text-anchor="middle" fill="#000" stroke="#000" stroke-width="0.22" dy="2.9">F18</text>
<text x="43.04" y="298.04" font-size="6.25" text-anchor="middle" fill="#000" stroke="#000" stroke-width="0.22" dy="2.9">F19</text>
<text x="31.30" y="289.08" font-size="6.25" text-anchor="middle" fill="#000" stroke="#000" stroke-width="0.22" dy="2.9">F20</text>
<text x="21.75" y="277.79" font-size="6.25" text-anchor="middle" fill="#000" stroke="#000" stroke-width="0.22" dy="2.9">F21</text>
<text x="14.84" y="264.70" font-size="6.25" text-anchor="middle" fill="#000" stroke="#000" stroke-width="0.22" dy="2.9">F22</text>
<text x="10.90" y="250.43" font-size="6.25" text-anchor="middle" fill="#000" stroke="#000" stroke-width="0.22" dy="2.9">F23</text>
<text x="10.10" y="235.64" font-size="6.25" text-anchor="middle" fill="#000" stroke="#000" stroke-width="0.22" dy="2.9">F24</text>
<text x="12.49" y="221.02" font-size="6.25" text-anchor="middle" fill="#000" stroke="#000" stroke-width="0.22" dy="2.9">F25</text>
<text x="17.94" y="207.26" font-size="6.25" text-anchor="middle" fill="#000" stroke="#000" stroke-width="0.22" dy="2.9">F26</text>
<text x="26.22" y="195.00" font-size="6.25" text-anchor="middle" fill="#000" stroke="#000" stroke-width="0.22" dy="2.9">F27</text>
<text x="36.93" y="184.82" font-size="6.25" text-anchor="middle" fill="#000" stroke="#000" stroke-width="0.22" dy="2.9">F28</text>
<text x="49.56" y="177.18" font-size="6.25" text-anchor="middle" fill="#000" stroke="#000" stroke-width="0.22" dy="2.9">F29</text>
<text x="63.54" y="172.45" font-size="6.25" text-anchor="middle" fill="#000" stroke="#000" stroke-width="0.22" dy="2.9">F30</text>
<rect x="133.20" y="177.90" width="27.30" height="9.60" fill="#fff" stroke="#bdbdbd" stroke-width="0.55"/>
<rect x="134.05" y="179.85" width="10.00" height="5.50" fill="#2e7da3" fill-opacity="0.17" stroke="#2e7da3" stroke-opacity="0.70" stroke-width="0.90"/>
<path d="M135.20 182.60H142.90" stroke="#2e7da3" stroke-opacity="0.3" stroke-width="0.6"/>
<text x="145.10" y="185.50" font-size="6.9" fill="#000" stroke="#000" stroke-width="0.1">AOA</text>
</g>
<g>
<ellipse cx="268.50" cy="239.35" rx="6.96" ry="6.90" fill="none" stroke="#e0e0e0" stroke-width="0.7"/>
<ellipse cx="268.50" cy="239.35" rx="13.91" ry="13.80" fill="none" stroke="#e0e0e0" stroke-width="0.7"/>
<ellipse cx="268.50" cy="239.35" rx="20.87" ry="20.70" fill="none" stroke="#e0e0e0" stroke-width="0.7"/>
<ellipse cx="268.50" cy="239.35" rx="27.82" ry="27.60" fill="none" stroke="#e0e0e0" stroke-width="0.7"/>
<ellipse cx="268.50" cy="239.35" rx="34.78" ry="34.50" fill="none" stroke="#e0e0e0" stroke-width="0.7"/>
<ellipse cx="268.50" cy="239.35" rx="41.73" ry="41.40" fill="none" stroke="#e0e0e0" stroke-width="0.7"/>
<ellipse cx="268.50" cy="239.35" rx="48.69" ry="48.30" fill="none" stroke="#e0e0e0" stroke-width="0.7"/>
<ellipse cx="268.50" cy="239.35" rx="55.64" ry="55.20" fill="none" stroke="#e0e0e0" stroke-width="0.7"/>
<ellipse cx="268.50" cy="239.35" rx="62.60" ry="62.10" fill="none" stroke="#c6c6c6" stroke-width="0.8"/>
<path d="M268.50 239.35L268.50 177.25M268.50 239.35L281.96 178.70M268.50 239.35L294.79 182.99M268.50 239.35L306.38 189.91M268.50 239.35L316.21 199.15M268.50 239.35L323.81 210.26M268.50 239.35L328.82 222.74M268.50 239.35L331.01 235.99M268.50 239.35L330.28 249.40M268.50 239.35L326.65 262.34M268.50 239.35L320.31 274.20M268.50 239.35L311.55 284.43M268.50 239.35L300.77 292.56M268.50 239.35L288.49 298.20M268.50 239.35L275.27 301.09M268.50 239.35L261.73 301.09M268.50 239.35L248.51 298.20M268.50 239.35L236.23 292.56M268.50 239.35L225.45 284.43M268.50 239.35L216.69 274.20M268.50 239.35L210.35 262.34M268.50 239.35L206.72 249.40M268.50 239.35L205.99 235.99M268.50 239.35L208.18 222.74M268.50 239.35L213.19 210.26M268.50 239.35L220.79 199.15M268.50 239.35L230.62 189.91M268.50 239.35L242.21 182.99M268.50 239.35L255.04 178.70" stroke="#c4c4c4" stroke-width="0.75" fill="none"/>
<polygon points="268.50,191.05 278.97,192.18 288.94,195.51 297.97,200.90 300.31,212.55 317.66,213.49 322.12,224.58 324.06,236.36 330.28,249.40 313.73,257.23 308.80,266.46 306.77,279.42 297.19,286.65 288.49,298.20 273.76,287.37 263.24,287.37 252.95,285.12 250.57,268.91 225.45,284.43 233.96,262.58 210.35,262.34 227.32,246.05 226.83,237.11 221.59,226.43 225.48,216.73 236.69,212.55 264.29,233.86 248.06,195.51 258.03,192.18" fill="#e84a48" fill-opacity="0.20" stroke="#e84a48" stroke-width="0.70" stroke-linejoin="round"/>
<circle cx="268.50" cy="191.05" r="1.2" fill="#e84a48"/>
<circle cx="278.97" cy="192.18" r="1.2" fill="#e84a48"/>
<circle cx="288.94" cy="195.51" r="1.2" fill="#e84a48"/>
<circle cx="297.97" cy="200.90" r="1.2" fill="#e84a48"/>
<circle cx="300.31" cy="212.55" r="1.2" fill="#e84a48"/>
<circle cx="317.66" cy="213.49" r="1.2" fill="#e84a48"/>
<circle cx="322.12" cy="224.58" r="1.2" fill="#e84a48"/>
<circle cx="324.06" cy="236.36" r="1.2" fill="#e84a48"/>
<circle cx="330.28" cy="249.40" r="1.2" fill="#e84a48"/>
<circle cx="313.73" cy="257.23" r="1.2" fill="#e84a48"/>
<circle cx="308.80" cy="266.46" r="1.2" fill="#e84a48"/>
<circle cx="306.77" cy="279.42" r="1.2" fill="#e84a48"/>
<circle cx="297.19" cy="286.65" r="1.2" fill="#e84a48"/>
<circle cx="288.49" cy="298.20" r="1.2" fill="#e84a48"/>
<circle cx="273.76" cy="287.37" r="1.2" fill="#e84a48"/>
<circle cx="263.24" cy="287.37" r="1.2" fill="#e84a48"/>
<circle cx="252.95" cy="285.12" r="1.2" fill="#e84a48"/>
<circle cx="250.57" cy="268.91" r="1.2" fill="#e84a48"/>
<circle cx="225.45" cy="284.43" r="1.2" fill="#e84a48"/>
<circle cx="233.96" cy="262.58" r="1.2" fill="#e84a48"/>
<circle cx="210.35" cy="262.34" r="1.2" fill="#e84a48"/>
<circle cx="227.32" cy="246.05" r="1.2" fill="#e84a48"/>
<circle cx="226.83" cy="237.11" r="1.2" fill="#e84a48"/>
<circle cx="221.59" cy="226.43" r="1.2" fill="#e84a48"/>
<circle cx="225.48" cy="216.73" r="1.2" fill="#e84a48"/>
<circle cx="236.69" cy="212.55" r="1.2" fill="#e84a48"/>
<circle cx="264.29" cy="233.86" r="1.2" fill="#e84a48"/>
<circle cx="248.06" cy="195.51" r="1.2" fill="#e84a48"/>
<circle cx="258.03" cy="192.18" r="1.2" fill="#e84a48"/>
<text x="270.95" y="232.79" font-size="5.7" text-anchor="middle" fill="#000" stroke="#000" stroke-width="0.06" dy="2.3">1</text>
<text x="271.70" y="225.93" font-size="5.7" text-anchor="middle" fill="#000" stroke="#000" stroke-width="0.06" dy="2.3">2</text>
<text x="272.46" y="219.07" font-size="5.7" text-anchor="middle" fill="#000" stroke="#000" stroke-width="0.06" dy="2.3">3</text>
<text x="273.21" y="212.21" font-size="5.7" text-anchor="middle" fill="#000" stroke="#000" stroke-width="0.06" dy="2.3">4</text>
<text x="273.96" y="205.35" font-size="5.7" text-anchor="middle" fill="#000" stroke="#000" stroke-width="0.06" dy="2.3">5</text>
<text x="274.71" y="198.49" font-size="5.7" text-anchor="middle" fill="#000" stroke="#000" stroke-width="0.06" dy="2.3">6</text>
<text x="275.46" y="191.63" font-size="5.7" text-anchor="middle" fill="#000" stroke="#000" stroke-width="0.06" dy="2.3">7</text>
<text x="276.22" y="184.77" font-size="5.7" text-anchor="middle" fill="#000" stroke="#000" stroke-width="0.06" dy="2.3">8</text>
<text x="276.97" y="177.91" font-size="5.7" text-anchor="middle" fill="#000" stroke="#000" stroke-width="0.06" dy="2.3">9</text>
<text x="268.70" y="170.85" font-size="6.25" text-anchor="middle" fill="#000" stroke="#000" stroke-width="0.22" dy="2.9">F1</text>
<text x="283.36" y="172.45" font-size="6.25" text-anchor="middle" fill="#000" stroke="#000" stroke-width="0.22" dy="2.9">F3</text>
<text x="297.34" y="177.18" font-size="6.25" text-anchor="middle" fill="#000" stroke="#000" stroke-width="0.22" dy="2.9">F4</text>
<text x="309.97" y="184.82" font-size="6.25" text-anchor="middle" fill="#000" stroke="#000" stroke-width="0.22" dy="2.9">F5</text>
<text x="320.68" y="195.00" font-size="6.25" text-anchor="middle" fill="#000" stroke="#000" stroke-width="0.22" dy="2.9">F6</text>
<text x="328.96" y="207.26" font-size="6.25" text-anchor="middle" fill="#000" stroke="#000" stroke-width="0.22" dy="2.9">F7</text>
<text x="334.41" y="221.02" font-size="6.25" text-anchor="middle" fill="#000" stroke="#000" stroke-width="0.22" dy="2.9">F8</text>
<text x="336.80" y="235.64" font-size="6.25" text-anchor="middle" fill="#000" stroke="#000" stroke-width="0.22" dy="2.9">F9</text>
<text x="336.00" y="250.43" font-size="6.25" text-anchor="middle" fill="#000" stroke="#000" stroke-width="0.22" dy="2.9">F10</text>
<text x="332.06" y="264.70" font-size="6.25" text-anchor="middle" fill="#000" stroke="#000" stroke-width="0.22" dy="2.9">F11</text>
<text x="325.15" y="277.79" font-size="6.25" text-anchor="middle" fill="#000" stroke="#000" stroke-width="0.22" dy="2.9">F12</text>
<text x="315.60" y="289.08" font-size="6.25" text-anchor="middle" fill="#000" stroke="#000" stroke-width="0.22" dy="2.9">F13</text>
<text x="303.86" y="298.04" font-size="6.25" text-anchor="middle" fill="#000" stroke="#000" stroke-width="0.22" dy="2.9">F14</text>
<text x="290.48" y="304.26" font-size="6.25" text-anchor="middle" fill="#000" stroke="#000" stroke-width="0.22" dy="2.9">F15</text>
<text x="276.07" y="307.45" font-size="6.25" text-anchor="middle" fill="#000" stroke="#000" stroke-width="0.22" dy="2.9">F16</text>
<text x="261.33" y="307.45" font-size="6.25" text-anchor="middle" fill="#000" stroke="#000" stroke-width="0.22" dy="2.9">F17</text>
<text x="246.92" y="304.26" font-size="6.25" text-anchor="middle" fill="#000" stroke="#000" stroke-width="0.22" dy="2.9">F18</text>
<text x="233.54" y="298.04" font-size="6.25" text-anchor="middle" fill="#000" stroke="#000" stroke-width="0.22" dy="2.9">F19</text>
<text x="221.80" y="289.08" font-size="6.25" text-anchor="middle" fill="#000" stroke="#000" stroke-width="0.22" dy="2.9">F20</text>
<text x="212.25" y="277.79" font-size="6.25" text-anchor="middle" fill="#000" stroke="#000" stroke-width="0.22" dy="2.9">F21</text>
<text x="205.34" y="264.70" font-size="6.25" text-anchor="middle" fill="#000" stroke="#000" stroke-width="0.22" dy="2.9">F22</text>
<text x="201.40" y="250.43" font-size="6.25" text-anchor="middle" fill="#000" stroke="#000" stroke-width="0.22" dy="2.9">F23</text>
<text x="200.60" y="235.64" font-size="6.25" text-anchor="middle" fill="#000" stroke="#000" stroke-width="0.22" dy="2.9">F24</text>
<text x="202.99" y="221.02" font-size="6.25" text-anchor="middle" fill="#000" stroke="#000" stroke-width="0.22" dy="2.9">F25</text>
<text x="208.44" y="207.26" font-size="6.25" text-anchor="middle" fill="#000" stroke="#000" stroke-width="0.22" dy="2.9">F26</text>
<text x="216.72" y="195.00" font-size="6.25" text-anchor="middle" fill="#000" stroke="#000" stroke-width="0.22" dy="2.9">F27</text>
<text x="227.43" y="184.82" font-size="6.25" text-anchor="middle" fill="#000" stroke="#000" stroke-width="0.22" dy="2.9">F28</text>
<text x="240.06" y="177.18" font-size="6.25" text-anchor="middle" fill="#000" stroke="#000" stroke-width="0.22" dy="2.9">F29</text>
<text x="254.04" y="172.45" font-size="6.25" text-anchor="middle" fill="#000" stroke="#000" stroke-width="0.22" dy="2.9">F30</text>
<rect x="319.40" y="176.80" width="31.10" height="9.60" fill="#fff" stroke="#bdbdbd" stroke-width="0.55"/>
<rect x="320.52" y="178.93" width="9.65" height="5.35" fill="#e84a48" fill-opacity="0.20" stroke="#e84a48" stroke-opacity="0.60" stroke-width="1.25"/>
<path d="M321.50 181.60H329.20" stroke="#e84a48" stroke-opacity="0.3" stroke-width="0.6"/>
<text x="331.20" y="184.20" font-size="6.9" fill="#000" stroke="#000" stroke-width="0.1">ChOA</text>
</g>
<g>
<ellipse cx="459.20" cy="239.35" rx="6.96" ry="6.90" fill="none" stroke="#e0e0e0" stroke-width="0.7"/>
<ellipse cx="459.20" cy="239.35" rx="13.91" ry="13.80" fill="none" stroke="#e0e0e0" stroke-width="0.7"/>
<ellipse cx="459.20" cy="239.35" rx="20.87" ry="20.70" fill="none" stroke="#e0e0e0" stroke-width="0.7"/>
<ellipse cx="459.20" cy="239.35" rx="27.82" ry="27.60" fill="none" stroke="#e0e0e0" stroke-width="0.7"/>
<ellipse cx="459.20" cy="239.35" rx="34.78" ry="34.50" fill="none" stroke="#e0e0e0" stroke-width="0.7"/>
<ellipse cx="459.20" cy="239.35" rx="41.73" ry="41.40" fill="none" stroke="#e0e0e0" stroke-width="0.7"/>
<ellipse cx="459.20" cy="239.35" rx="48.69" ry="48.30" fill="none" stroke="#e0e0e0" stroke-width="0.7"/>
<ellipse cx="459.20" cy="239.35" rx="55.64" ry="55.20" fill="none" stroke="#e0e0e0" stroke-width="0.7"/>
<ellipse cx="459.20" cy="239.35" rx="62.60" ry="62.10" fill="none" stroke="#c6c6c6" stroke-width="0.8"/>
<path d="M459.20 239.35L459.20 177.25M459.20 239.35L472.66 178.70M459.20 239.35L485.49 182.99M459.20 239.35L497.08 189.91M459.20 239.35L506.91 199.15M459.20 239.35L514.51 210.26M459.20 239.35L519.52 222.74M459.20 239.35L521.71 235.99M459.20 239.35L520.98 249.40M459.20 239.35L517.35 262.34M459.20 239.35L511.01 274.20M459.20 239.35L502.25 284.43M459.20 239.35L491.47 292.56M459.20 239.35L479.19 298.20M459.20 239.35L465.97 301.09M459.20 239.35L452.43 301.09M459.20 239.35L439.21 298.20M459.20 239.35L426.93 292.56M459.20 239.35L416.15 284.43M459.20 239.35L407.39 274.20M459.20 239.35L401.05 262.34M459.20 239.35L397.42 249.40M459.20 239.35L396.69 235.99M459.20 239.35L398.88 222.74M459.20 239.35L403.89 210.26M459.20 239.35L411.49 199.15M459.20 239.35L421.32 189.91M459.20 239.35L432.91 182.99M459.20 239.35L445.74 178.70" stroke="#c4c4c4" stroke-width="0.75" fill="none"/>
<polygon points="459.20,225.55 463.69,219.13 476.72,201.78 484.46,206.39 496.31,208.08 496.07,219.96 499.41,228.27 521.71,235.99 500.38,246.05 491.51,252.12 487.99,258.71 492.68,274.42 469.96,257.09 472.53,278.58 463.71,280.51 454.69,280.51 454.76,252.43 437.68,274.82 425.72,274.42 418.90,266.46 433.35,249.57 411.15,247.16 410.58,236.74 439.09,233.81 422.33,219.96 422.09,208.08 429.73,200.90 441.68,201.78 450.23,198.92" fill="#b24a44" fill-opacity="0.13" stroke="#b24a44" stroke-width="0.60" stroke-linejoin="round"/>
<circle cx="459.20" cy="225.55" r="1.2" fill="#b24a44"/>
<circle cx="463.69" cy="219.13" r="1.2" fill="#b24a44"/>
<circle cx="476.72" cy="201.78" r="1.2" fill="#b24a44"/>
<circle cx="484.46" cy="206.39" r="1.2" fill="#b24a44"/>
<circle cx="496.31" cy="208.08" r="1.2" fill="#b24a44"/>
<circle cx="496.07" cy="219.96" r="1.2" fill="#b24a44"/>
<circle cx="499.41" cy="228.27" r="1.2" fill="#b24a44"/>
<circle cx="521.71" cy="235.99" r="1.2" fill="#b24a44"/>
<circle cx="500.38" cy="246.05" r="1.2" fill="#b24a44"/>
<circle cx="491.51" cy="252.12" r="1.2" fill="#b24a44"/>
<circle cx="487.99" cy="258.71" r="1.2" fill="#b24a44"/>
<circle cx="492.68" cy="274.42" r="1.2" fill="#b24a44"/>
<circle cx="469.96" cy="257.09" r="1.2" fill="#b24a44"/>
<circle cx="472.53" cy="278.58" r="1.2" fill="#b24a44"/>
<circle cx="463.71" cy="280.51" r="1.2" fill="#b24a44"/>
<circle cx="454.69" cy="280.51" r="1.2" fill="#b24a44"/>
<circle cx="454.76" cy="252.43" r="1.2" fill="#b24a44"/>
<circle cx="437.68" cy="274.82" r="1.2" fill="#b24a44"/>
<circle cx="425.72" cy="274.42" r="1.2" fill="#b24a44"/>
<circle cx="418.90" cy="266.46" r="1.2" fill="#b24a44"/>
<circle cx="433.35" cy="249.57" r="1.2" fill="#b24a44"/>
<circle cx="411.15" cy="247.16" r="1.2" fill="#b24a44"/>
<circle cx="410.58" cy="236.74" r="1.2" fill="#b24a44"/>
<circle cx="439.09" cy="233.81" r="1.2" fill="#b24a44"/>
<circle cx="422.33" cy="219.96" r="1.2" fill="#b24a44"/>
<circle cx="422.09" cy="208.08" r="1.2" fill="#b24a44"/>
<circle cx="429.73" cy="200.90" r="1.2" fill="#b24a44"/>
<circle cx="441.68" cy="201.78" r="1.2" fill="#b24a44"/>
<circle cx="450.23" cy="198.92" r="1.2" fill="#b24a44"/>
<text x="461.65" y="232.79" font-size="5.7" text-anchor="middle" fill="#000" stroke="#000" stroke-width="0.06" dy="2.3">1</text>
<text x="462.40" y="225.93" font-size="5.7" text-anchor="middle" fill="#000" stroke="#000" stroke-width="0.06" dy="2.3">2</text>
<text x="463.16" y="219.07" font-size="5.7" text-anchor="middle" fill="#000" stroke="#000" stroke-width="0.06" dy="2.3">3</text>
<text x="463.91" y="212.21" font-size="5.7" text-anchor="middle" fill="#000" stroke="#000" stroke-width="0.06" dy="2.3">4</text>
<text x="464.66" y="205.35" font-size="5.7" text-anchor="middle" fill="#000" stroke="#000" stroke-width="0.06" dy="2.3">5</text>
<text x="465.41" y="198.49" font-size="5.7" text-anchor="middle" fill="#000" stroke="#000" stroke-width="0.06" dy="2.3">6</text>
<text x="466.16" y="191.63" font-size="5.7" text-anchor="middle" fill="#000" stroke="#000" stroke-width="0.06" dy="2.3">7</text>
<text x="466.92" y="184.77" font-size="5.7" text-anchor="middle" fill="#000" stroke="#000" stroke-width="0.06" dy="2.3">8</text>
<text x="467.67" y="177.91" font-size="5.7" text-anchor="middle" fill="#000" stroke="#000" stroke-width="0.06" dy="2.3">9</text>
<text x="459.40" y="170.85" font-size="6.25" text-anchor="middle" fill="#000" stroke="#000" stroke-width="0.22" dy="2.9">F1</text>
<text x="474.06" y="172.45" font-size="6.25" text-anchor="middle" fill="#000" stroke="#000" stroke-width="0.22" dy="2.9">F3</text>
<text x="488.04" y="177.18" font-size="6.25" text-anchor="middle" fill="#000" stroke="#000" stroke-width="0.22" dy="2.9">F4</text>
<text x="500.67" y="184.82" font-size="6.25" text-anchor="middle" fill="#000" stroke="#000" stroke-width="0.22" dy="2.9">F5</text>
<text x="511.38" y="195.00" font-size="6.25" text-anchor="middle" fill="#000" stroke="#000" stroke-width="0.22" dy="2.9">F6</text>
<text x="519.66" y="207.26" font-size="6.25" text-anchor="middle" fill="#000" stroke="#000" stroke-width="0.22" dy="2.9">F7</text>
<text x="525.11" y="221.02" font-size="6.25" text-anchor="middle" fill="#000" stroke="#000" stroke-width="0.22" dy="2.9">F8</text>
<text x="527.50" y="235.64" font-size="6.25" text-anchor="middle" fill="#000" stroke="#000" stroke-width="0.22" dy="2.9">F9</text>
<text x="526.70" y="250.43" font-size="6.25" text-anchor="middle" fill="#000" stroke="#000" stroke-width="0.22" dy="2.9">F10</text>
<text x="522.76" y="264.70" font-size="6.25" text-anchor="middle" fill="#000" stroke="#000" stroke-width="0.22" dy="2.9">F11</text>
<text x="515.85" y="277.79" font-size="6.25" text-anchor="middle" fill="#000" stroke="#000" stroke-width="0.22" dy="2.9">F12</text>
<text x="506.30" y="289.08" font-size="6.25" text-anchor="middle" fill="#000" stroke="#000" stroke-width="0.22" dy="2.9">F13</text>
<text x="494.56" y="298.04" font-size="6.25" text-anchor="middle" fill="#000" stroke="#000" stroke-width="0.22" dy="2.9">F14</text>
<text x="481.18" y="304.26" font-size="6.25" text-anchor="middle" fill="#000" stroke="#000" stroke-width="0.22" dy="2.9">F15</text>
<text x="466.77" y="307.45" font-size="6.25" text-anchor="middle" fill="#000" stroke="#000" stroke-width="0.22" dy="2.9">F16</text>
<text x="452.03" y="307.45" font-size="6.25" text-anchor="middle" fill="#000" stroke="#000" stroke-width="0.22" dy="2.9">F17</text>
<text x="437.62" y="304.26" font-size="6.25" text-anchor="middle" fill="#000" stroke="#000" stroke-width="0.22" dy="2.9">F18</text>
<text x="424.24" y="298.04" font-size="6.25" text-anchor="middle" fill="#000" stroke="#000" stroke-width="0.22" dy="2.9">F19</text>
<text x="412.50" y="289.08" font-size="6.25" text-anchor="middle" fill="#000" stroke="#000" stroke-width="0.22" dy="2.9">F20</text>
<text x="402.95" y="277.79" font-size="6.25" text-anchor="middle" fill="#000" stroke="#000" stroke-width="0.22" dy="2.9">F21</text>
<text x="396.04" y="264.70" font-size="6.25" text-anchor="middle" fill="#000" stroke="#000" stroke-width="0.22" dy="2.9">F22</text>
<text x="392.10" y="250.43" font-size="6.25" text-anchor="middle" fill="#000" stroke="#000" stroke-width="0.22" dy="2.9">F23</text>
<text x="391.30" y="235.64" font-size="6.25" text-anchor="middle" fill="#000" stroke="#000" stroke-width="0.22" dy="2.9">F24</text>
<text x="393.69" y="221.02" font-size="6.25" text-anchor="middle" fill="#000" stroke="#000" stroke-width="0.22" dy="2.9">F25</text>
<text x="399.14" y="207.26" font-size="6.25" text-anchor="middle" fill="#000" stroke="#000" stroke-width="0.22" dy="2.9">F26</text>
<text x="407.42" y="195.00" font-size="6.25" text-anchor="middle" fill="#000" stroke="#000" stroke-width="0.22" dy="2.9">F27</text>
<text x="418.13" y="184.82" font-size="6.25" text-anchor="middle" fill="#000" stroke="#000" stroke-width="0.22" dy="2.9">F28</text>
<text x="430.76" y="177.18" font-size="6.25" text-anchor="middle" fill="#000" stroke="#000" stroke-width="0.22" dy="2.9">F29</text>
<text x="444.74" y="172.45" font-size="6.25" text-anchor="middle" fill="#000" stroke="#000" stroke-width="0.22" dy="2.9">F30</text>
<rect x="510.60" y="176.50" width="28.00" height="9.90" fill="#fff" stroke="#bdbdbd" stroke-width="0.55"/>
<rect x="511.55" y="178.65" width="10.00" height="5.70" fill="#b24a44" fill-opacity="0.13" stroke="#b24a44" stroke-opacity="0.70" stroke-width="0.70"/>
<text x="522.50" y="184.20" font-size="6.9" fill="#000" stroke="#000" stroke-width="0.1">HHO</text>
</g>
<g>
<ellipse cx="78.00" cy="407.35" rx="6.96" ry="6.90" fill="none" stroke="#e0e0e0" stroke-width="0.7"/>
<ellipse cx="78.00" cy="407.35" rx="13.91" ry="13.80" fill="none" stroke="#e0e0e0" stroke-width="0.7"/>
<ellipse cx="78.00" cy="407.35" rx="20.87" ry="20.70" fill="none" stroke="#e0e0e0" stroke-width="0.7"/>
<ellipse cx="78.00" cy="407.35" rx="27.82" ry="27.60" fill="none" stroke="#e0e0e0" stroke-width="0.7"/>
<ellipse cx="78.00" cy="407.35" rx="34.78" ry="34.50" fill="none" stroke="#e0e0e0" stroke-width="0.7"/>
<ellipse cx="78.00" cy="407.35" rx="41.73" ry="41.40" fill="none" stroke="#e0e0e0" stroke-width="0.7"/>
<ellipse cx="78.00" cy="407.35" rx="48.69" ry="48.30" fill="none" stroke="#e0e0e0" stroke-width="0.7"/>
<ellipse cx="78.00" cy="407.35" rx="55.64" ry="55.20" fill="none" stroke="#e0e0e0" stroke-width="0.7"/>
<ellipse cx="78.00" cy="407.35" rx="62.60" ry="62.10" fill="none" stroke="#c6c6c6" stroke-width="0.8"/>
<path d="M78.00 407.35L78.00 345.25M78.00 407.35L91.46 346.70M78.00 407.35L104.29 350.99M78.00 407.35L115.88 357.91M78.00 407.35L125.71 367.15M78.00 407.35L133.31 378.26M78.00 407.35L138.32 390.74M78.00 407.35L140.51 403.99M78.00 407.35L139.78 417.40M78.00 407.35L136.15 430.34M78.00 407.35L129.81 442.20M78.00 407.35L121.05 452.43M78.00 407.35L110.27 460.56M78.00 407.35L97.99 466.20M78.00 407.35L84.77 469.09M78.00 407.35L71.23 469.09M78.00 407.35L58.01 466.20M78.00 407.35L45.73 460.56M78.00 407.35L34.95 452.43M78.00 407.35L26.19 442.20M78.00 407.35L19.85 430.34M78.00 407.35L16.22 417.40M78.00 407.35L15.49 403.99M78.00 407.35L17.68 390.74M78.00 407.35L22.69 378.26M78.00 407.35L30.29 367.15M78.00 407.35L40.12 357.91M78.00 407.35L51.71 350.99M78.00 407.35L64.54 346.70" stroke="#c4c4c4" stroke-width="0.75" fill="none"/>
<polygon points="78.00,379.75 86.97,366.92 83.84,394.83 90.63,390.87 88.60,398.42 90.29,400.89 98.11,401.81 91.89,406.60 91.73,409.58 97.38,415.01 95.27,418.97 97.13,427.39 103.10,448.74 86.88,433.51 81.01,434.79 74.99,434.79 66.90,440.04 63.66,431.00 58.87,427.39 49.21,426.71 39.23,422.67 57.41,410.70 50.22,405.86 44.49,398.12 53.42,394.42 62.10,393.95 61.16,385.38 66.32,382.30 72.02,380.40" fill="#3fb78d" fill-opacity="0.16" stroke="#3fb78d" stroke-width="0.70" stroke-linejoin="round"/>
<circle cx="78.00" cy="379.75" r="1.2" fill="#3fb78d"/>
<circle cx="86.97" cy="366.92" r="1.2" fill="#3fb78d"/>
<circle cx="83.84" cy="394.83" r="1.2" fill="#3fb78d"/>
<circle cx="90.63" cy="390.87" r="1.2" fill="#3fb78d"/>
<circle cx="88.60" cy="398.42" r="1.2" fill="#3fb78d"/>
<circle cx="90.29" cy="400.89" r="1.2" fill="#3fb78d"/>
<circle cx="98.11" cy="401.81" r="1.2" fill="#3fb78d"/>
<circle cx="91.89" cy="406.60" r="1.2" fill="#3fb78d"/>
<circle cx="91.73" cy="409.58" r="1.2" fill="#3fb78d"/>
<circle cx="97.38" cy="415.01" r="1.2" fill="#3fb78d"/>
<circle cx="95.27" cy="418.97" r="1.2" fill="#3fb78d"/>
<circle cx="97.13" cy="427.39" r="1.2" fill="#3fb78d"/>
<circle cx="103.10" cy="448.74" r="1.2" fill="#3fb78d"/>
<circle cx="86.88" cy="433.51" r="1.2" fill="#3fb78d"/>
<circle cx="81.01" cy="434.79" r="1.2" fill="#3fb78d"/>
<circle cx="74.99" cy="434.79" r="1.2" fill="#3fb78d"/>
<circle cx="66.90" cy="440.04" r="1.2" fill="#3fb78d"/>
<circle cx="63.66" cy="431.00" r="1.2" fill="#3fb78d"/>
<circle cx="58.87" cy="427.39" r="1.2" fill="#3fb78d"/>
<circle cx="49.21" cy="426.71" r="1.2" fill="#3fb78d"/>
<circle cx="39.23" cy="422.67" r="1.2" fill="#3fb78d"/>
<circle cx="57.41" cy="410.70" r="1.2" fill="#3fb78d"/>
<circle cx="50.22" cy="405.86" r="1.2" fill="#3fb78d"/>
<circle cx="44.49" cy="398.12" r="1.2" fill="#3fb78d"/>
<circle cx="53.42" cy="394.42" r="1.2" fill="#3fb78d"/>
<circle cx="62.10" cy="393.95" r="1.2" fill="#3fb78d"/>
<circle cx="61.16" cy="385.38" r="1.2" fill="#3fb78d"/>
<circle cx="66.32" cy="382.30" r="1.2" fill="#3fb78d"/>
<circle cx="72.02" cy="380.40" r="1.2" fill="#3fb78d"/>
<text x="80.45" y="400.79" font-size="5.7" text-anchor="middle" fill="#000" stroke="#000" stroke-width="0.06" dy="2.3">1</text>
<text x="81.20" y="393.93" font-size="5.7" text-anchor="middle" fill="#000" stroke="#000" stroke-width="0.06" dy="2.3">2</text>
<text x="81.96" y="387.07" font-size="5.7" text-anchor="middle" fill="#000" stroke="#000" stroke-width="0.06" dy="2.3">3</text>
<text x="82.71" y="380.21" font-size="5.7" text-anchor="middle" fill="#000" stroke="#000" stroke-width="0.06" dy="2.3">4</text>
<text x="83.46" y="373.35" font-size="5.7" text-anchor="middle" fill="#000" stroke="#000" stroke-width="0.06" dy="2.3">5</text>
<text x="84.21" y="366.49" font-size="5.7" text-anchor="middle" fill="#000" stroke="#000" stroke-width="0.06" dy="2.3">6</text>
<text x="84.96" y="359.63" font-size="5.7" text-anchor="middle" fill="#000" stroke="#000" stroke-width="0.06" dy="2.3">7</text>
<text x="85.72" y="352.77" font-size="5.7" text-anchor="middle" fill="#000" stroke="#000" stroke-width="0.06" dy="2.3">8</text>
<text x="86.47" y="345.91" font-size="5.7" text-anchor="middle" fill="#000" stroke="#000" stroke-width="0.06" dy="2.3">9</text>
<text x="78.20" y="338.85" font-size="6.25" text-anchor="middle" fill="#000" stroke="#000" stroke-width="0.22" dy="2.9">F1</text>
<text x="92.86" y="340.45" font-size="6.25" text-anchor="middle" fill="#000" stroke="#000" stroke-width="0.22" dy="2.9">F3</text>
<text x="106.84" y="345.18" font-size="6.25" text-anchor="middle" fill="#000" stroke="#000" stroke-width="0.22" dy="2.9">F4</text>
<text x="119.47" y="352.82" font-size="6.25" text-anchor="middle" fill="#000" stroke="#000" stroke-width="0.22" dy="2.9">F5</text>
<text x="130.18" y="363.00" font-size="6.25" text-anchor="middle" fill="#000" stroke="#000" stroke-width="0.22" dy="2.9">F6</text>
<text x="138.46" y="375.26" font-size="6.25" text-anchor="middle" fill="#000" stroke="#000" stroke-width="0.22" dy="2.9">F7</text>
<text x="143.91" y="389.02" font-size="6.25" text-anchor="middle" fill="#000" stroke="#000" stroke-width="0.22" dy="2.9">F8</text>
<text x="146.30" y="403.64" font-size="6.25" text-anchor="middle" fill="#000" stroke="#000" stroke-width="0.22" dy="2.9">F9</text>
<text x="145.50" y="418.43" font-size="6.25" text-anchor="middle" fill="#000" stroke="#000" stroke-width="0.22" dy="2.9">F10</text>
<text x="141.56" y="432.70" font-size="6.25" text-anchor="middle" fill="#000" stroke="#000" stroke-width="0.22" dy="2.9">F11</text>
<text x="134.65" y="445.79" font-size="6.25" text-anchor="middle" fill="#000" stroke="#000" stroke-width="0.22" dy="2.9">F12</text>
<text x="125.10" y="457.08" font-size="6.25" text-anchor="middle" fill="#000" stroke="#000" stroke-width="0.22" dy="2.9">F13</text>
<text x="113.36" y="466.04" font-size="6.25" text-anchor="middle" fill="#000" stroke="#000" stroke-width="0.22" dy="2.9">F14</text>
<text x="99.98" y="472.26" font-size="6.25" text-anchor="middle" fill="#000" stroke="#000" stroke-width="0.22" dy="2.9">F15</text>
<text x="85.57" y="475.45" font-size="6.25" text-anchor="middle" fill="#000" stroke="#000" stroke-width="0.22" dy="2.9">F16</text>
<text x="70.83" y="475.45" font-size="6.25" text-anchor="middle" fill="#000" stroke="#000" stroke-width="0.22" dy="2.9">F17</text>
<text x="56.42" y="472.26" font-size="6.25" text-anchor="middle" fill="#000" stroke="#000" stroke-width="0.22" dy="2.9">F18</text>
<text x="43.04" y="466.04" font-size="6.25" text-anchor="middle" fill="#000" stroke="#000" stroke-width="0.22" dy="2.9">F19</text>
<text x="31.30" y="457.08" font-size="6.25" text-anchor="middle" fill="#000" stroke="#000" stroke-width="0.22" dy="2.9">F20</text>
<text x="21.75" y="445.79" font-size="6.25" text-anchor="middle" fill="#000" stroke="#000" stroke-width="0.22" dy="2.9">F21</text>
<text x="14.84" y="432.70" font-size="6.25" text-anchor="middle" fill="#000" stroke="#000" stroke-width="0.22" dy="2.9">F22</text>
<text x="10.90" y="418.43" font-size="6.25" text-anchor="middle" fill="#000" stroke="#000" stroke-width="0.22" dy="2.9">F23</text>
<text x="10.10" y="403.64" font-size="6.25" text-anchor="middle" fill="#000" stroke="#000" stroke-width="0.22" dy="2.9">F24</text>
<text x="12.49" y="389.02" font-size="6.25" text-anchor="middle" fill="#000" stroke="#000" stroke-width="0.22" dy="2.9">F25</text>
<text x="17.94" y="375.26" font-size="6.25" text-anchor="middle" fill="#000" stroke="#000" stroke-width="0.22" dy="2.9">F26</text>
<text x="26.22" y="363.00" font-size="6.25" text-anchor="middle" fill="#000" stroke="#000" stroke-width="0.22" dy="2.9">F27</text>
<text x="36.93" y="352.82" font-size="6.25" text-anchor="middle" fill="#000" stroke="#000" stroke-width="0.22" dy="2.9">F28</text>
<text x="49.56" y="345.18" font-size="6.25" text-anchor="middle" fill="#000" stroke="#000" stroke-width="0.22" dy="2.9">F29</text>
<text x="63.54" y="340.45" font-size="6.25" text-anchor="middle" fill="#000" stroke="#000" stroke-width="0.22" dy="2.9">F30</text>
<rect x="129.70" y="344.10" width="30.10" height="9.40" fill="#fff" stroke="#bdbdbd" stroke-width="0.55"/>
<rect x="130.72" y="346.32" width="9.45" height="4.85" fill="#3fb78d" fill-opacity="0.16" stroke="#3fb78d" stroke-opacity="0.60" stroke-width="1.25"/>
<path d="M131.70 348.75H139.20" stroke="#3fb78d" stroke-opacity="0.3" stroke-width="0.6"/>
<text x="141.60" y="351.80" font-size="6.9" fill="#000" stroke="#000" stroke-width="0.1">GWO</text>
</g>
<g>
<ellipse cx="268.50" cy="407.35" rx="6.96" ry="6.90" fill="none" stroke="#e0e0e0" stroke-width="0.7"/>
<ellipse cx="268.50" cy="407.35" rx="13.91" ry="13.80" fill="none" stroke="#e0e0e0" stroke-width="0.7"/>
<ellipse cx="268.50" cy="407.35" rx="20.87" ry="20.70" fill="none" stroke="#e0e0e0" stroke-width="0.7"/>
<ellipse cx="268.50" cy="407.35" rx="27.82" ry="27.60" fill="none" stroke="#e0e0e0" stroke-width="0.7"/>
<ellipse cx="268.50" cy="407.35" rx="34.78" ry="34.50" fill="none" stroke="#e0e0e0" stroke-width="0.7"/>
<ellipse cx="268.50" cy="407.35" rx="41.73" ry="41.40" fill="none" stroke="#e0e0e0" stroke-width="0.7"/>
<ellipse cx="268.50" cy="407.35" rx="48.69" ry="48.30" fill="none" stroke="#e0e0e0" stroke-width="0.7"/>
<ellipse cx="268.50" cy="407.35" rx="55.64" ry="55.20" fill="none" stroke="#e0e0e0" stroke-width="0.7"/>
<ellipse cx="268.50" cy="407.35" rx="62.60" ry="62.10" fill="none" stroke="#c6c6c6" stroke-width="0.8"/>
<path d="M268.50 407.35L268.50 345.25M268.50 407.35L281.96 346.70M268.50 407.35L294.79 350.99M268.50 407.35L306.38 357.91M268.50 407.35L316.21 367.15M268.50 407.35L323.81 378.26M268.50 407.35L328.82 390.74M268.50 407.35L331.01 403.99M268.50 407.35L330.28 417.40M268.50 407.35L326.65 430.34M268.50 407.35L320.31 442.20M268.50 407.35L311.55 452.43M268.50 407.35L300.77 460.56M268.50 407.35L288.49 466.20M268.50 407.35L275.27 469.09M268.50 407.35L261.73 469.09M268.50 407.35L248.51 466.20M268.50 407.35L236.23 460.56M268.50 407.35L225.45 452.43M268.50 407.35L216.69 442.20M268.50 407.35L210.35 430.34M268.50 407.35L206.72 417.40M268.50 407.35L205.99 403.99M268.50 407.35L208.18 390.74M268.50 407.35L213.19 378.26M268.50 407.35L220.79 367.15M268.50 407.35L230.62 357.91M268.50 407.35L242.21 350.99M268.50 407.35L255.04 346.70" stroke="#c4c4c4" stroke-width="0.75" fill="none"/>
<polygon points="268.50,386.65 271.49,393.87 277.26,388.56 276.92,396.36 273.80,402.88 286.94,397.65 281.90,403.66 289.34,406.23 295.96,411.82 274.96,409.90 280.01,415.09 282.85,422.38 272.09,413.26 270.72,413.89 270.00,421.07 267.00,421.07 261.84,426.97 261.33,419.17 254.15,422.38 256.99,415.09 255.58,412.46 254.77,409.58 247.66,406.23 241.69,399.97 256.21,400.89 257.90,398.42 255.87,390.87 265.58,401.09 265.51,393.87" fill="#eabf72" fill-opacity="0.10" stroke="#eabf72" stroke-width="0.55" stroke-linejoin="round"/>
<circle cx="268.50" cy="386.65" r="1.2" fill="#eabf72"/>
<circle cx="271.49" cy="393.87" r="1.2" fill="#eabf72"/>
<circle cx="277.26" cy="388.56" r="1.2" fill="#eabf72"/>
<circle cx="276.92" cy="396.36" r="1.2" fill="#eabf72"/>
<circle cx="273.80" cy="402.88" r="1.2" fill="#eabf72"/>
<circle cx="286.94" cy="397.65" r="1.2" fill="#eabf72"/>
<circle cx="281.90" cy="403.66" r="1.2" fill="#eabf72"/>
<circle cx="289.34" cy="406.23" r="1.2" fill="#eabf72"/>
<circle cx="295.96" cy="411.82" r="1.2" fill="#eabf72"/>
<circle cx="274.96" cy="409.90" r="1.2" fill="#eabf72"/>
<circle cx="280.01" cy="415.09" r="1.2" fill="#eabf72"/>
<circle cx="282.85" cy="422.38" r="1.2" fill="#eabf72"/>
<circle cx="272.09" cy="413.26" r="1.2" fill="#eabf72"/>
<circle cx="270.72" cy="413.89" r="1.2" fill="#eabf72"/>
<circle cx="270.00" cy="421.07" r="1.2" fill="#eabf72"/>
<circle cx="267.00" cy="421.07" r="1.2" fill="#eabf72"/>
<circle cx="261.84" cy="426.97" r="1.2" fill="#eabf72"/>
<circle cx="261.33" cy="419.17" r="1.2" fill="#eabf72"/>
<circle cx="254.15" cy="422.38" r="1.2" fill="#eabf72"/>
<circle cx="256.99" cy="415.09" r="1.2" fill="#eabf72"/>
<circle cx="255.58" cy="412.46" r="1.2" fill="#eabf72"/>
<circle cx="254.77" cy="409.58" r="1.2" fill="#eabf72"/>
<circle cx="247.66" cy="406.23" r="1.2" fill="#eabf72"/>
<circle cx="241.69" cy="399.97" r="1.2" fill="#eabf72"/>
<circle cx="256.21" cy="400.89" r="1.2" fill="#eabf72"/>
<circle cx="257.90" cy="398.42" r="1.2" fill="#eabf72"/>
<circle cx="255.87" cy="390.87" r="1.2" fill="#eabf72"/>
<circle cx="265.58" cy="401.09" r="1.2" fill="#eabf72"/>
<circle cx="265.51" cy="393.87" r="1.2" fill="#eabf72"/>
<text x="270.95" y="400.79" font-size="5.7" text-anchor="middle" fill="#000" stroke="#000" stroke-width="0.06" dy="2.3">1</text>
<text x="271.70" y="393.93" font-size="5.7" text-anchor="middle" fill="#000" stroke="#000" stroke-width="0.06" dy="2.3">2</text>
<text x="272.46" y="387.07" font-size="5.7" text-anchor="middle" fill="#000" stroke="#000" stroke-width="0.06" dy="2.3">3</text>
<text x="273.21" y="380.21" font-size="5.7" text-anchor="middle" fill="#000" stroke="#000" stroke-width="0.06" dy="2.3">4</text>
<text x="273.96" y="373.35" font-size="5.7" text-anchor="middle" fill="#000" stroke="#000" stroke-width="0.06" dy="2.3">5</text>
<text x="274.71" y="366.49" font-size="5.7" text-anchor="middle" fill="#000" stroke="#000" stroke-width="0.06" dy="2.3">6</text>
<text x="275.46" y="359.63" font-size="5.7" text-anchor="middle" fill="#000" stroke="#000" stroke-width="0.06" dy="2.3">7</text>
<text x="276.22" y="352.77" font-size="5.7" text-anchor="middle" fill="#000" stroke="#000" stroke-width="0.06" dy="2.3">8</text>
<text x="276.97" y="345.91" font-size="5.7" text-anchor="middle" fill="#000" stroke="#000" stroke-width="0.06" dy="2.3">9</text>
<text x="268.70" y="338.85" font-size="6.25" text-anchor="middle" fill="#000" stroke="#000" stroke-width="0.22" dy="2.9">F1</text>
<text x="283.36" y="340.45" font-size="6.25" text-anchor="middle" fill="#000" stroke="#000" stroke-width="0.22" dy="2.9">F3</text>
<text x="297.34" y="345.18" font-size="6.25" text-anchor="middle" fill="#000" stroke="#000" stroke-width="0.22" dy="2.9">F4</text>
<text x="309.97" y="352.82" font-size="6.25" text-anchor="middle" fill="#000" stroke="#000" stroke-width="0.22" dy="2.9">F5</text>
<text x="320.68" y="363.00" font-size="6.25" text-anchor="middle" fill="#000" stroke="#000" stroke-width="0.22" dy="2.9">F6</text>
<text x="328.96" y="375.26" font-size="6.25" text-anchor="middle" fill="#000" stroke="#000" stroke-width="0.22" dy="2.9">F7</text>
<text x="334.41" y="389.02" font-size="6.25" text-anchor="middle" fill="#000" stroke="#000" stroke-width="0.22" dy="2.9">F8</text>
<text x="336.80" y="403.64" font-size="6.25" text-anchor="middle" fill="#000" stroke="#000" stroke-width="0.22" dy="2.9">F9</text>
<text x="336.00" y="418.43" font-size="6.25" text-anchor="middle" fill="#000" stroke="#000" stroke-width="0.22" dy="2.9">F10</text>
<text x="332.06" y="432.70" font-size="6.25" text-anchor="middle" fill="#000" stroke="#000" stroke-width="0.22" dy="2.9">F11</text>
<text x="325.15" y="445.79" font-size="6.25" text-anchor="middle" fill="#000" stroke="#000" stroke-width="0.22" dy="2.9">F12</text>
<text x="315.60" y="457.08" font-size="6.25" text-anchor="middle" fill="#000" stroke="#000" stroke-width="0.22" dy="2.9">F13</text>
<text x="303.86" y="466.04" font-size="6.25" text-anchor="middle" fill="#000" stroke="#000" stroke-width="0.22" dy="2.9">F14</text>
<text x="290.48" y="472.26" font-size="6.25" text-anchor="middle" fill="#000" stroke="#000" stroke-width="0.22" dy="2.9">F15</text>
<text x="276.07" y="475.45" font-size="6.25" text-anchor="middle" fill="#000" stroke="#000" stroke-width="0.22" dy="2.9">F16</text>
<text x="261.33" y="475.45" font-size="6.25" text-anchor="middle" fill="#000" stroke="#000" stroke-width="0.22" dy="2.9">F17</text>
<text x="246.92" y="472.26" font-size="6.25" text-anchor="middle" fill="#000" stroke="#000" stroke-width="0.22" dy="2.9">F18</text>
<text x="233.54" y="466.04" font-size="6.25" text-anchor="middle" fill="#000" stroke="#000" stroke-width="0.22" dy="2.9">F19</text>
<text x="221.80" y="457.08" font-size="6.25" text-anchor="middle" fill="#000" stroke="#000" stroke-width="0.22" dy="2.9">F20</text>
<text x="212.25" y="445.79" font-size="6.25" text-anchor="middle" fill="#000" stroke="#000" stroke-width="0.22" dy="2.9">F21</text>
<text x="205.34" y="432.70" font-size="6.25" text-anchor="middle" fill="#000" stroke="#000" stroke-width="0.22" dy="2.9">F22</text>
<text x="201.40" y="418.43" font-size="6.25" text-anchor="middle" fill="#000" stroke="#000" stroke-width="0.22" dy="2.9">F23</text>
<text x="200.60" y="403.64" font-size="6.25" text-anchor="middle" fill="#000" stroke="#000" stroke-width="0.22" dy="2.9">F24</text>
<text x="202.99" y="389.02" font-size="6.25" text-anchor="middle" fill="#000" stroke="#000" stroke-width="0.22" dy="2.9">F25</text>
<text x="208.44" y="375.26" font-size="6.25" text-anchor="middle" fill="#000" stroke="#000" stroke-width="0.22" dy="2.9">F26</text>
<text x="216.72" y="363.00" font-size="6.25" text-anchor="middle" fill="#000" stroke="#000" stroke-width="0.22" dy="2.9">F27</text>
<text x="227.43" y="352.82" font-size="6.25" text-anchor="middle" fill="#000" stroke="#000" stroke-width="0.22" dy="2.9">F28</text>
<text x="240.06" y="345.18" font-size="6.25" text-anchor="middle" fill="#000" stroke="#000" stroke-width="0.22" dy="2.9">F29</text>
<text x="254.04" y="340.45" font-size="6.25" text-anchor="middle" fill="#000" stroke="#000" stroke-width="0.22" dy="2.9">F30</text>
<rect x="323.20" y="345.20" width="35.10" height="10.30" fill="#fff" stroke="#bdbdbd" stroke-width="0.55"/>
<rect x="324.10" y="347.10" width="10.10" height="6.20" fill="#eabf72" fill-opacity="0.10" stroke="#eabf72" stroke-opacity="0.55" stroke-width="0.80"/>
<text x="335.20" y="353.30" font-size="6.9" fill="#000" stroke="#000" stroke-width="0.1">RGWO</text>
</g>
<g>
<ellipse cx="459.20" cy="407.35" rx="6.96" ry="6.90" fill="none" stroke="#e0e0e0" stroke-width="0.7"/>
<ellipse cx="459.20" cy="407.35" rx="13.91" ry="13.80" fill="none" stroke="#e0e0e0" stroke-width="0.7"/>
<ellipse cx="459.20" cy="407.35" rx="20.87" ry="20.70" fill="none" stroke="#e0e0e0" stroke-width="0.7"/>
<ellipse cx="459.20" cy="407.35" rx="27.82" ry="27.60" fill="none" stroke="#e0e0e0" stroke-width="0.7"/>
<ellipse cx="459.20" cy="407.35" rx="34.78" ry="34.50" fill="none" stroke="#e0e0e0" stroke-width="0.7"/>
<ellipse cx="459.20" cy="407.35" rx="41.73" ry="41.40" fill="none" stroke="#e0e0e0" stroke-width="0.7"/>
<ellipse cx="459.20" cy="407.35" rx="48.69" ry="48.30" fill="none" stroke="#e0e0e0" stroke-width="0.7"/>
<ellipse cx="459.20" cy="407.35" rx="55.64" ry="55.20" fill="none" stroke="#e0e0e0" stroke-width="0.7"/>
<ellipse cx="459.20" cy="407.35" rx="62.60" ry="62.10" fill="none" stroke="#c6c6c6" stroke-width="0.8"/>
<path d="M459.20 407.35L459.20 345.25M459.20 407.35L472.66 346.70M459.20 407.35L485.49 350.99M459.20 407.35L497.08 357.91M459.20 407.35L506.91 367.15M459.20 407.35L514.51 378.26M459.20 407.35L519.52 390.74M459.20 407.35L521.71 403.99M459.20 407.35L520.98 417.40M459.20 407.35L517.35 430.34M459.20 407.35L511.01 442.20M459.20 407.35L502.25 452.43M459.20 407.35L491.47 460.56M459.20 407.35L479.19 466.20M459.20 407.35L465.97 469.09M459.20 407.35L452.43 469.09M459.20 407.35L439.21 466.20M459.20 407.35L426.93 460.56M459.20 407.35L416.15 452.43M459.20 407.35L407.39 442.20M459.20 407.35L401.05 430.34M459.20 407.35L397.42 417.40M459.20 407.35L396.69 403.99M459.20 407.35L398.88 390.74M459.20 407.35L403.89 378.26M459.20 407.35L411.49 367.15M459.20 407.35L421.32 357.91M459.20 407.35L432.91 350.99M459.20 407.35L445.74 346.70" stroke="#c4c4c4" stroke-width="0.75" fill="none"/>
<polygon points="459.20,365.95 460.70,400.61 473.80,376.04 476.04,385.38 475.10,393.95 465.35,404.12 486.01,399.97 466.15,406.98 479.79,410.70 485.05,417.57 482.23,422.84 483.12,432.40 473.54,431.00 465.86,426.97 461.46,427.93 456.94,427.93 450.32,433.51 448.44,425.09 454.42,412.36 436.17,422.84 426.89,420.12 431.74,411.82 445.31,406.60 418.99,396.27 428.47,391.19 437.99,389.48 438.15,379.88 450.44,388.56 454.71,387.13" fill="#3a50a2" fill-opacity="0.14" stroke="#3a50a2" stroke-width="0.65" stroke-linejoin="round"/>
<circle cx="459.20" cy="365.95" r="1.2" fill="#3a50a2"/>
<circle cx="460.70" cy="400.61" r="1.2" fill="#3a50a2"/>
<circle cx="473.80" cy="376.04" r="1.2" fill="#3a50a2"/>
<circle cx="476.04" cy="385.38" r="1.2" fill="#3a50a2"/>
<circle cx="475.10" cy="393.95" r="1.2" fill="#3a50a2"/>
<circle cx="465.35" cy="404.12" r="1.2" fill="#3a50a2"/>
<circle cx="486.01" cy="399.97" r="1.2" fill="#3a50a2"/>
<circle cx="466.15" cy="406.98" r="1.2" fill="#3a50a2"/>
<circle cx="479.79" cy="410.70" r="1.2" fill="#3a50a2"/>
<circle cx="485.05" cy="417.57" r="1.2" fill="#3a50a2"/>
<circle cx="482.23" cy="422.84" r="1.2" fill="#3a50a2"/>
<circle cx="483.12" cy="432.40" r="1.2" fill="#3a50a2"/>
<circle cx="473.54" cy="431.00" r="1.2" fill="#3a50a2"/>
<circle cx="465.86" cy="426.97" r="1.2" fill="#3a50a2"/>
<circle cx="461.46" cy="427.93" r="1.2" fill="#3a50a2"/>
<circle cx="456.94" cy="427.93" r="1.2" fill="#3a50a2"/>
<circle cx="450.32" cy="433.51" r="1.2" fill="#3a50a2"/>
<circle cx="448.44" cy="425.09" r="1.2" fill="#3a50a2"/>
<circle cx="454.42" cy="412.36" r="1.2" fill="#3a50a2"/>
<circle cx="436.17" cy="422.84" r="1.2" fill="#3a50a2"/>
<circle cx="426.89" cy="420.12" r="1.2" fill="#3a50a2"/>
<circle cx="431.74" cy="411.82" r="1.2" fill="#3a50a2"/>
<circle cx="445.31" cy="406.60" r="1.2" fill="#3a50a2"/>
<circle cx="418.99" cy="396.27" r="1.2" fill="#3a50a2"/>
<circle cx="428.47" cy="391.19" r="1.2" fill="#3a50a2"/>
<circle cx="437.99" cy="389.48" r="1.2" fill="#3a50a2"/>
<circle cx="438.15" cy="379.88" r="1.2" fill="#3a50a2"/>
<circle cx="450.44" cy="388.56" r="1.2" fill="#3a50a2"/>
<circle cx="454.71" cy="387.13" r="1.2" fill="#3a50a2"/>
<text x="461.65" y="400.79" font-size="5.7" text-anchor="middle" fill="#000" stroke="#000" stroke-width="0.06" dy="2.3">1</text>
<text x="462.40" y="393.93" font-size="5.7" text-anchor="middle" fill="#000" stroke="#000" stroke-width="0.06" dy="2.3">2</text>
<text x="463.16" y="387.07" font-size="5.7" text-anchor="middle" fill="#000" stroke="#000" stroke-width="0.06" dy="2.3">3</text>
<text x="463.91" y="380.21" font-size="5.7" text-anchor="middle" fill="#000" stroke="#000" stroke-width="0.06" dy="2.3">4</text>
<text x="464.66" y="373.35" font-size="5.7" text-anchor="middle" fill="#000" stroke="#000" stroke-width="0.06" dy="2.3">5</text>
<text x="465.41" y="366.49" font-size="5.7" text-anchor="middle" fill="#000" stroke="#000" stroke-width="0.06" dy="2.3">6</text>
<text x="466.16" y="359.63" font-size="5.7" text-anchor="middle" fill="#000" stroke="#000" stroke-width="0.06" dy="2.3">7</text>
<text x="466.92" y="352.77" font-size="5.7" text-anchor="middle" fill="#000" stroke="#000" stroke-width="0.06" dy="2.3">8</text>
<text x="467.67" y="345.91" font-size="5.7" text-anchor="middle" fill="#000" stroke="#000" stroke-width="0.06" dy="2.3">9</text>
<text x="459.40" y="338.85" font-size="6.25" text-anchor="middle" fill="#000" stroke="#000" stroke-width="0.22" dy="2.9">F1</text>
<text x="474.06" y="340.45" font-size="6.25" text-anchor="middle" fill="#000" stroke="#000" stroke-width="0.22" dy="2.9">F3</text>
<text x="488.04" y="345.18" font-size="6.25" text-anchor="middle" fill="#000" stroke="#000" stroke-width="0.22" dy="2.9">F4</text>
<text x="500.67" y="352.82" font-size="6.25" text-anchor="middle" fill="#000" stroke="#000" stroke-width="0.22" dy="2.9">F5</text>
<text x="511.38" y="363.00" font-size="6.25" text-anchor="middle" fill="#000" stroke="#000" stroke-width="0.22" dy="2.9">F6</text>
<text x="519.66" y="375.26" font-size="6.25" text-anchor="middle" fill="#000" stroke="#000" stroke-width="0.22" dy="2.9">F7</text>
<text x="525.11" y="389.02" font-size="6.25" text-anchor="middle" fill="#000" stroke="#000" stroke-width="0.22" dy="2.9">F8</text>
<text x="527.50" y="403.64" font-size="6.25" text-anchor="middle" fill="#000" stroke="#000" stroke-width="0.22" dy="2.9">F9</text>
<text x="526.70" y="418.43" font-size="6.25" text-anchor="middle" fill="#000" stroke="#000" stroke-width="0.22" dy="2.9">F10</text>
<text x="522.76" y="432.70" font-size="6.25" text-anchor="middle" fill="#000" stroke="#000" stroke-width="0.22" dy="2.9">F11</text>
<text x="515.85" y="445.79" font-size="6.25" text-anchor="middle" fill="#000" stroke="#000" stroke-width="0.22" dy="2.9">F12</text>
<text x="506.30" y="457.08" font-size="6.25" text-anchor="middle" fill="#000" stroke="#000" stroke-width="0.22" dy="2.9">F13</text>
<text x="494.56" y="466.04" font-size="6.25" text-anchor="middle" fill="#000" stroke="#000" stroke-width="0.22" dy="2.9">F14</text>
<text x="481.18" y="472.26" font-size="6.25" text-anchor="middle" fill="#000" stroke="#000" stroke-width="0.22" dy="2.9">F15</text>
<text x="466.77" y="475.45" font-size="6.25" text-anchor="middle" fill="#000" stroke="#000" stroke-width="0.22" dy="2.9">F16</text>
<text x="452.03" y="475.45" font-size="6.25" text-anchor="middle" fill="#000" stroke="#000" stroke-width="0.22" dy="2.9">F17</text>
<text x="437.62" y="472.26" font-size="6.25" text-anchor="middle" fill="#000" stroke="#000" stroke-width="0.22" dy="2.9">F18</text>
<text x="424.24" y="466.04" font-size="6.25" text-anchor="middle" fill="#000" stroke="#000" stroke-width="0.22" dy="2.9">F19</text>
<text x="412.50" y="457.08" font-size="6.25" text-anchor="middle" fill="#000" stroke="#000" stroke-width="0.22" dy="2.9">F20</text>
<text x="402.95" y="445.79" font-size="6.25" text-anchor="middle" fill="#000" stroke="#000" stroke-width="0.22" dy="2.9">F21</text>
<text x="396.04" y="432.70" font-size="6.25" text-anchor="middle" fill="#000" stroke="#000" stroke-width="0.22" dy="2.9">F22</text>
<text x="392.10" y="418.43" font-size="6.25" text-anchor="middle" fill="#000" stroke="#000" stroke-width="0.22" dy="2.9">F23</text>
<text x="391.30" y="403.64" font-size="6.25" text-anchor="middle" fill="#000" stroke="#000" stroke-width="0.22" dy="2.9">F24</text>
<text x="393.69" y="389.02" font-size="6.25" text-anchor="middle" fill="#000" stroke="#000" stroke-width="0.22" dy="2.9">F25</text>
<text x="399.14" y="375.26" font-size="6.25" text-anchor="middle" fill="#000" stroke="#000" stroke-width="0.22" dy="2.9">F26</text>
<text x="407.42" y="363.00" font-size="6.25" text-anchor="middle" fill="#000" stroke="#000" stroke-width="0.22" dy="2.9">F27</text>
<text x="418.13" y="352.82" font-size="6.25" text-anchor="middle" fill="#000" stroke="#000" stroke-width="0.22" dy="2.9">F28</text>
<text x="430.76" y="345.18" font-size="6.25" text-anchor="middle" fill="#000" stroke="#000" stroke-width="0.22" dy="2.9">F29</text>
<text x="444.74" y="340.45" font-size="6.25" text-anchor="middle" fill="#000" stroke="#000" stroke-width="0.22" dy="2.9">F30</text>
<rect x="512.90" y="345.20" width="33.20" height="10.10" fill="#fff" stroke="#bdbdbd" stroke-width="0.55"/>
<rect x="513.95" y="347.35" width="10.10" height="5.90" fill="#3a50a2" fill-opacity="0.14" stroke="#3a50a2" stroke-opacity="0.65" stroke-width="0.90"/>
<text x="525.10" y="353.00" font-size="6.9" fill="#000" stroke="#000" stroke-width="0.1">MPSO</text>
</g>
</svg>
</body></html>
